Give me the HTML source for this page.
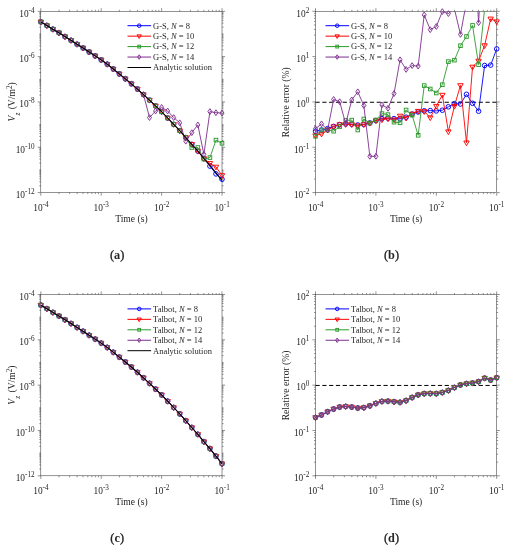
<!DOCTYPE html>
<html><head><meta charset="utf-8"><title>Figure</title>
<style>html,body{margin:0;padding:0;background:#fff}svg{display:block}text{font-family:"Liberation Serif","Times New Roman",serif;fill:#262626}</style></head><body>
<svg width="508" height="550" viewBox="0 0 508 550">
<rect width="508" height="550" fill="#fff"/>
<defs>
<clipPath id="cpa"><rect x="37.8" y="11.3" width="187.2" height="181.3"/></clipPath>
<clipPath id="cpb"><rect x="312.5" y="11.3" width="187.2" height="181.3"/></clipPath>
<clipPath id="cpc"><rect x="37.8" y="294.5" width="187.2" height="181.3"/></clipPath>
<clipPath id="cpd"><rect x="312.5" y="294.5" width="187.2" height="181.3"/></clipPath>
</defs>
<rect x="40.8" y="11.3" width="181.2" height="181.3" fill="none" stroke="#262626" stroke-width="0.5"/>
<path d="M40.80 195.70000000000002v-3.1M40.80 8.200000000000001v3.1M58.98 194.10000000000002v-1.5M58.98 9.8v1.5M69.62 194.10000000000002v-1.5M69.62 9.8v1.5M77.16 194.10000000000002v-1.5M77.16 9.8v1.5M83.02 194.10000000000002v-1.5M83.02 9.8v1.5M87.80 194.10000000000002v-1.5M87.80 9.8v1.5M91.84 194.10000000000002v-1.5M91.84 9.8v1.5M95.35 194.10000000000002v-1.5M95.35 9.8v1.5M98.44 194.10000000000002v-1.5M98.44 9.8v1.5M101.20 195.70000000000002v-3.1M101.20 8.200000000000001v3.1M119.38 194.10000000000002v-1.5M119.38 9.8v1.5M130.02 194.10000000000002v-1.5M130.02 9.8v1.5M137.56 194.10000000000002v-1.5M137.56 9.8v1.5M143.42 194.10000000000002v-1.5M143.42 9.8v1.5M148.20 194.10000000000002v-1.5M148.20 9.8v1.5M152.24 194.10000000000002v-1.5M152.24 9.8v1.5M155.75 194.10000000000002v-1.5M155.75 9.8v1.5M158.84 194.10000000000002v-1.5M158.84 9.8v1.5M161.60 195.70000000000002v-3.1M161.60 8.200000000000001v3.1M179.78 194.10000000000002v-1.5M179.78 9.8v1.5M190.42 194.10000000000002v-1.5M190.42 9.8v1.5M197.96 194.10000000000002v-1.5M197.96 9.8v1.5M203.82 194.10000000000002v-1.5M203.82 9.8v1.5M208.60 194.10000000000002v-1.5M208.60 9.8v1.5M212.64 194.10000000000002v-1.5M212.64 9.8v1.5M216.15 194.10000000000002v-1.5M216.15 9.8v1.5M219.24 194.10000000000002v-1.5M219.24 9.8v1.5M222.00 195.70000000000002v-3.1M222.00 8.200000000000001v3.1M37.699999999999996 11.30h3.1M225.1 11.30h-3.1M39.3 27.14h1.5M223.5 27.14h-1.5M39.3 23.15h1.5M223.5 23.15h-1.5M39.3 20.32h1.5M223.5 20.32h-1.5M39.3 18.12h1.5M223.5 18.12h-1.5M39.3 16.33h1.5M223.5 16.33h-1.5M39.3 14.81h1.5M223.5 14.81h-1.5M39.3 13.50h1.5M223.5 13.50h-1.5M39.3 12.34h1.5M223.5 12.34h-1.5M39.3 33.96h1.5M223.5 33.96h-1.5M39.3 49.80h1.5M223.5 49.80h-1.5M39.3 45.81h1.5M223.5 45.81h-1.5M39.3 42.98h1.5M223.5 42.98h-1.5M39.3 40.78h1.5M223.5 40.78h-1.5M39.3 38.99h1.5M223.5 38.99h-1.5M39.3 37.47h1.5M223.5 37.47h-1.5M39.3 36.16h1.5M223.5 36.16h-1.5M39.3 35.00h1.5M223.5 35.00h-1.5M37.699999999999996 56.62h3.1M225.1 56.62h-3.1M39.3 72.47h1.5M223.5 72.47h-1.5M39.3 68.47h1.5M223.5 68.47h-1.5M39.3 65.64h1.5M223.5 65.64h-1.5M39.3 63.45h1.5M223.5 63.45h-1.5M39.3 61.65h1.5M223.5 61.65h-1.5M39.3 60.14h1.5M223.5 60.14h-1.5M39.3 58.82h1.5M223.5 58.82h-1.5M39.3 57.66h1.5M223.5 57.66h-1.5M39.3 79.29h1.5M223.5 79.29h-1.5M39.3 95.13h1.5M223.5 95.13h-1.5M39.3 91.14h1.5M223.5 91.14h-1.5M39.3 88.31h1.5M223.5 88.31h-1.5M39.3 86.11h1.5M223.5 86.11h-1.5M39.3 84.32h1.5M223.5 84.32h-1.5M39.3 82.80h1.5M223.5 82.80h-1.5M39.3 81.48h1.5M223.5 81.48h-1.5M39.3 80.32h1.5M223.5 80.32h-1.5M37.699999999999996 101.95h3.1M225.1 101.95h-3.1M39.3 117.79h1.5M223.5 117.79h-1.5M39.3 113.80h1.5M223.5 113.80h-1.5M39.3 110.97h1.5M223.5 110.97h-1.5M39.3 108.77h1.5M223.5 108.77h-1.5M39.3 106.98h1.5M223.5 106.98h-1.5M39.3 105.46h1.5M223.5 105.46h-1.5M39.3 104.15h1.5M223.5 104.15h-1.5M39.3 102.99h1.5M223.5 102.99h-1.5M39.3 124.61h1.5M223.5 124.61h-1.5M39.3 140.45h1.5M223.5 140.45h-1.5M39.3 136.46h1.5M223.5 136.46h-1.5M39.3 133.63h1.5M223.5 133.63h-1.5M39.3 131.43h1.5M223.5 131.43h-1.5M39.3 129.64h1.5M223.5 129.64h-1.5M39.3 128.12h1.5M223.5 128.12h-1.5M39.3 126.81h1.5M223.5 126.81h-1.5M39.3 125.65h1.5M223.5 125.65h-1.5M37.699999999999996 147.28h3.1M225.1 147.28h-3.1M39.3 163.12h1.5M223.5 163.12h-1.5M39.3 159.12h1.5M223.5 159.12h-1.5M39.3 156.29h1.5M223.5 156.29h-1.5M39.3 154.10h1.5M223.5 154.10h-1.5M39.3 152.30h1.5M223.5 152.30h-1.5M39.3 150.79h1.5M223.5 150.79h-1.5M39.3 149.47h1.5M223.5 149.47h-1.5M39.3 148.31h1.5M223.5 148.31h-1.5M39.3 169.94h1.5M223.5 169.94h-1.5M39.3 185.78h1.5M223.5 185.78h-1.5M39.3 181.79h1.5M223.5 181.79h-1.5M39.3 178.96h1.5M223.5 178.96h-1.5M39.3 176.76h1.5M223.5 176.76h-1.5M39.3 174.97h1.5M223.5 174.97h-1.5M39.3 173.45h1.5M223.5 173.45h-1.5M39.3 172.13h1.5M223.5 172.13h-1.5M39.3 170.97h1.5M223.5 170.97h-1.5M37.699999999999996 192.60h3.1M225.1 192.60h-3.1" stroke="#262626" stroke-width="0.5" fill="none"/>
<text x="33.20" y="210.60" font-size="9.4">10<tspan dy="-4.0" font-size="7.2">-4</tspan></text>
<text x="93.60" y="210.60" font-size="9.4">10<tspan dy="-4.0" font-size="7.2">-3</tspan></text>
<text x="154.00" y="210.60" font-size="9.4">10<tspan dy="-4.0" font-size="7.2">-2</tspan></text>
<text x="214.40" y="210.60" font-size="9.4">10<tspan dy="-4.0" font-size="7.2">-1</tspan></text>
<text x="34.60" y="16.60" font-size="9.4" text-anchor="end">10<tspan dy="-4.0" font-size="7.2">-4</tspan></text>
<text x="34.60" y="61.92" font-size="9.4" text-anchor="end">10<tspan dy="-4.0" font-size="7.2">-6</tspan></text>
<text x="34.60" y="107.25" font-size="9.4" text-anchor="end">10<tspan dy="-4.0" font-size="7.2">-8</tspan></text>
<text x="34.60" y="152.58" font-size="9.4" text-anchor="end">10<tspan dy="-4.0" font-size="7.2">-10</tspan></text>
<text x="34.60" y="197.90" font-size="9.4" text-anchor="end">10<tspan dy="-4.0" font-size="7.2">-12</tspan></text>
<text x="131.40" y="222.10" font-size="9.6" text-anchor="middle">Time (s)</text>
<text transform="translate(15.20,101.95) rotate(-90)" font-size="9.6" text-anchor="middle"><tspan font-style="italic">V</tspan><tspan dy="4.8" dx="0.2" font-size="7.6" font-style="italic">z</tspan><tspan dy="-4.8" dx="0.8"> (V/m</tspan><tspan dy="-3.6" font-size="7.2">2</tspan><tspan dy="3.6">)</tspan></text>
<g>
<polyline points="40.80,21.90 46.84,25.50 52.88,29.20 58.92,32.80 64.96,36.60 71.00,40.30 77.04,44.20 83.08,48.00 89.12,52.00 95.16,55.90 101.20,59.90 107.24,64.20 113.28,69.00 119.32,73.90 125.36,78.80 131.40,83.80 137.44,89.05 143.48,94.60 149.52,100.10 155.56,105.90 161.60,111.70 167.64,118.00 173.68,124.30 179.72,130.70 185.76,137.50 191.80,144.30 197.84,151.10 203.88,158.50 209.92,166.10 215.96,173.90 222.00,179.20" fill="none" stroke="#0000ff" stroke-width="0.9" stroke-linejoin="round" clip-path="url(#cpa)"/>
<circle cx="40.80" cy="21.90" r="2.30" fill="none" stroke="#0000ff" stroke-width="0.95"/>
<circle cx="46.84" cy="25.50" r="2.30" fill="none" stroke="#0000ff" stroke-width="0.95"/>
<circle cx="52.88" cy="29.20" r="2.30" fill="none" stroke="#0000ff" stroke-width="0.95"/>
<circle cx="58.92" cy="32.80" r="2.30" fill="none" stroke="#0000ff" stroke-width="0.95"/>
<circle cx="64.96" cy="36.60" r="2.30" fill="none" stroke="#0000ff" stroke-width="0.95"/>
<circle cx="71.00" cy="40.30" r="2.30" fill="none" stroke="#0000ff" stroke-width="0.95"/>
<circle cx="77.04" cy="44.20" r="2.30" fill="none" stroke="#0000ff" stroke-width="0.95"/>
<circle cx="83.08" cy="48.00" r="2.30" fill="none" stroke="#0000ff" stroke-width="0.95"/>
<circle cx="89.12" cy="52.00" r="2.30" fill="none" stroke="#0000ff" stroke-width="0.95"/>
<circle cx="95.16" cy="55.90" r="2.30" fill="none" stroke="#0000ff" stroke-width="0.95"/>
<circle cx="101.20" cy="59.90" r="2.30" fill="none" stroke="#0000ff" stroke-width="0.95"/>
<circle cx="107.24" cy="64.20" r="2.30" fill="none" stroke="#0000ff" stroke-width="0.95"/>
<circle cx="113.28" cy="69.00" r="2.30" fill="none" stroke="#0000ff" stroke-width="0.95"/>
<circle cx="119.32" cy="73.90" r="2.30" fill="none" stroke="#0000ff" stroke-width="0.95"/>
<circle cx="125.36" cy="78.80" r="2.30" fill="none" stroke="#0000ff" stroke-width="0.95"/>
<circle cx="131.40" cy="83.80" r="2.30" fill="none" stroke="#0000ff" stroke-width="0.95"/>
<circle cx="137.44" cy="89.05" r="2.30" fill="none" stroke="#0000ff" stroke-width="0.95"/>
<circle cx="143.48" cy="94.60" r="2.30" fill="none" stroke="#0000ff" stroke-width="0.95"/>
<circle cx="149.52" cy="100.10" r="2.30" fill="none" stroke="#0000ff" stroke-width="0.95"/>
<circle cx="155.56" cy="105.90" r="2.30" fill="none" stroke="#0000ff" stroke-width="0.95"/>
<circle cx="161.60" cy="111.70" r="2.30" fill="none" stroke="#0000ff" stroke-width="0.95"/>
<circle cx="167.64" cy="118.00" r="2.30" fill="none" stroke="#0000ff" stroke-width="0.95"/>
<circle cx="173.68" cy="124.30" r="2.30" fill="none" stroke="#0000ff" stroke-width="0.95"/>
<circle cx="179.72" cy="130.70" r="2.30" fill="none" stroke="#0000ff" stroke-width="0.95"/>
<circle cx="185.76" cy="137.50" r="2.30" fill="none" stroke="#0000ff" stroke-width="0.95"/>
<circle cx="191.80" cy="144.30" r="2.30" fill="none" stroke="#0000ff" stroke-width="0.95"/>
<circle cx="197.84" cy="151.10" r="2.30" fill="none" stroke="#0000ff" stroke-width="0.95"/>
<circle cx="203.88" cy="158.50" r="2.30" fill="none" stroke="#0000ff" stroke-width="0.95"/>
<circle cx="209.92" cy="166.10" r="2.30" fill="none" stroke="#0000ff" stroke-width="0.95"/>
<circle cx="215.96" cy="173.90" r="2.30" fill="none" stroke="#0000ff" stroke-width="0.95"/>
<circle cx="222.00" cy="179.20" r="2.30" fill="none" stroke="#0000ff" stroke-width="0.95"/>
<polyline points="40.80,21.90 46.84,25.50 52.88,29.20 58.92,32.80 64.96,36.60 71.00,40.30 77.04,44.20 83.08,48.00 89.12,52.00 95.16,55.90 101.20,59.90 107.24,64.20 113.28,69.00 119.32,73.90 125.36,78.80 131.40,83.80 137.44,89.05 143.48,94.60 149.52,100.10 155.56,105.90 161.60,111.70 167.64,118.00 173.68,124.30 179.72,130.70 185.76,137.50 191.80,144.30 197.84,151.10 203.88,158.50 209.92,163.30 215.96,166.90 222.00,175.40" fill="none" stroke="#ff0000" stroke-width="0.9" stroke-linejoin="round" clip-path="url(#cpa)"/>
<path d="M38.10 20.20H43.50L40.80 24.90Z" fill="none" stroke="#ff0000" stroke-width="0.95"/>
<path d="M44.14 23.80H49.54L46.84 28.50Z" fill="none" stroke="#ff0000" stroke-width="0.95"/>
<path d="M50.18 27.50H55.58L52.88 32.20Z" fill="none" stroke="#ff0000" stroke-width="0.95"/>
<path d="M56.22 31.10H61.62L58.92 35.80Z" fill="none" stroke="#ff0000" stroke-width="0.95"/>
<path d="M62.26 34.90H67.66L64.96 39.60Z" fill="none" stroke="#ff0000" stroke-width="0.95"/>
<path d="M68.30 38.60H73.70L71.00 43.30Z" fill="none" stroke="#ff0000" stroke-width="0.95"/>
<path d="M74.34 42.50H79.74L77.04 47.20Z" fill="none" stroke="#ff0000" stroke-width="0.95"/>
<path d="M80.38 46.30H85.78L83.08 51.00Z" fill="none" stroke="#ff0000" stroke-width="0.95"/>
<path d="M86.42 50.30H91.82L89.12 55.00Z" fill="none" stroke="#ff0000" stroke-width="0.95"/>
<path d="M92.46 54.20H97.86L95.16 58.90Z" fill="none" stroke="#ff0000" stroke-width="0.95"/>
<path d="M98.50 58.20H103.90L101.20 62.90Z" fill="none" stroke="#ff0000" stroke-width="0.95"/>
<path d="M104.54 62.50H109.94L107.24 67.20Z" fill="none" stroke="#ff0000" stroke-width="0.95"/>
<path d="M110.58 67.30H115.98L113.28 72.00Z" fill="none" stroke="#ff0000" stroke-width="0.95"/>
<path d="M116.62 72.20H122.02L119.32 76.90Z" fill="none" stroke="#ff0000" stroke-width="0.95"/>
<path d="M122.66 77.10H128.06L125.36 81.80Z" fill="none" stroke="#ff0000" stroke-width="0.95"/>
<path d="M128.70 82.10H134.10L131.40 86.80Z" fill="none" stroke="#ff0000" stroke-width="0.95"/>
<path d="M134.74 87.35H140.14L137.44 92.05Z" fill="none" stroke="#ff0000" stroke-width="0.95"/>
<path d="M140.78 92.90H146.18L143.48 97.60Z" fill="none" stroke="#ff0000" stroke-width="0.95"/>
<path d="M146.82 98.40H152.22L149.52 103.10Z" fill="none" stroke="#ff0000" stroke-width="0.95"/>
<path d="M152.86 104.20H158.26L155.56 108.90Z" fill="none" stroke="#ff0000" stroke-width="0.95"/>
<path d="M158.90 110.00H164.30L161.60 114.70Z" fill="none" stroke="#ff0000" stroke-width="0.95"/>
<path d="M164.94 116.30H170.34L167.64 121.00Z" fill="none" stroke="#ff0000" stroke-width="0.95"/>
<path d="M170.98 122.60H176.38L173.68 127.30Z" fill="none" stroke="#ff0000" stroke-width="0.95"/>
<path d="M177.02 129.00H182.42L179.72 133.70Z" fill="none" stroke="#ff0000" stroke-width="0.95"/>
<path d="M183.06 135.80H188.46L185.76 140.50Z" fill="none" stroke="#ff0000" stroke-width="0.95"/>
<path d="M189.10 142.60H194.50L191.80 147.30Z" fill="none" stroke="#ff0000" stroke-width="0.95"/>
<path d="M195.14 149.40H200.54L197.84 154.10Z" fill="none" stroke="#ff0000" stroke-width="0.95"/>
<path d="M201.18 156.80H206.58L203.88 161.50Z" fill="none" stroke="#ff0000" stroke-width="0.95"/>
<path d="M207.22 161.60H212.62L209.92 166.30Z" fill="none" stroke="#ff0000" stroke-width="0.95"/>
<path d="M213.26 165.20H218.66L215.96 169.90Z" fill="none" stroke="#ff0000" stroke-width="0.95"/>
<path d="M219.30 173.70H224.70L222.00 178.40Z" fill="none" stroke="#ff0000" stroke-width="0.95"/>
<polyline points="40.80,21.90 46.84,25.50 52.88,29.20 58.92,32.80 64.96,36.60 71.00,40.30 77.04,44.20 83.08,48.00 89.12,52.00 95.16,55.90 101.20,59.90 107.24,64.20 113.28,69.00 119.32,73.90 125.36,78.80 131.40,83.80 137.44,89.05 143.48,94.60 149.52,100.10 155.56,105.90 161.60,111.70 167.64,118.00 173.68,124.30 179.72,130.70 185.76,137.50 191.80,147.50 197.84,147.50 203.88,159.10 209.92,157.60 215.96,140.10 222.00,143.30" fill="none" stroke="#2f9a2f" stroke-width="0.9" stroke-linejoin="round" clip-path="url(#cpa)"/>
<rect x="39.00" y="20.10" width="3.6" height="3.6" fill="none" stroke="#2f9a2f" stroke-width="0.95"/>
<rect x="45.04" y="23.70" width="3.6" height="3.6" fill="none" stroke="#2f9a2f" stroke-width="0.95"/>
<rect x="51.08" y="27.40" width="3.6" height="3.6" fill="none" stroke="#2f9a2f" stroke-width="0.95"/>
<rect x="57.12" y="31.00" width="3.6" height="3.6" fill="none" stroke="#2f9a2f" stroke-width="0.95"/>
<rect x="63.16" y="34.80" width="3.6" height="3.6" fill="none" stroke="#2f9a2f" stroke-width="0.95"/>
<rect x="69.20" y="38.50" width="3.6" height="3.6" fill="none" stroke="#2f9a2f" stroke-width="0.95"/>
<rect x="75.24" y="42.40" width="3.6" height="3.6" fill="none" stroke="#2f9a2f" stroke-width="0.95"/>
<rect x="81.28" y="46.20" width="3.6" height="3.6" fill="none" stroke="#2f9a2f" stroke-width="0.95"/>
<rect x="87.32" y="50.20" width="3.6" height="3.6" fill="none" stroke="#2f9a2f" stroke-width="0.95"/>
<rect x="93.36" y="54.10" width="3.6" height="3.6" fill="none" stroke="#2f9a2f" stroke-width="0.95"/>
<rect x="99.40" y="58.10" width="3.6" height="3.6" fill="none" stroke="#2f9a2f" stroke-width="0.95"/>
<rect x="105.44" y="62.40" width="3.6" height="3.6" fill="none" stroke="#2f9a2f" stroke-width="0.95"/>
<rect x="111.48" y="67.20" width="3.6" height="3.6" fill="none" stroke="#2f9a2f" stroke-width="0.95"/>
<rect x="117.52" y="72.10" width="3.6" height="3.6" fill="none" stroke="#2f9a2f" stroke-width="0.95"/>
<rect x="123.56" y="77.00" width="3.6" height="3.6" fill="none" stroke="#2f9a2f" stroke-width="0.95"/>
<rect x="129.60" y="82.00" width="3.6" height="3.6" fill="none" stroke="#2f9a2f" stroke-width="0.95"/>
<rect x="135.64" y="87.25" width="3.6" height="3.6" fill="none" stroke="#2f9a2f" stroke-width="0.95"/>
<rect x="141.68" y="92.80" width="3.6" height="3.6" fill="none" stroke="#2f9a2f" stroke-width="0.95"/>
<rect x="147.72" y="98.30" width="3.6" height="3.6" fill="none" stroke="#2f9a2f" stroke-width="0.95"/>
<rect x="153.76" y="104.10" width="3.6" height="3.6" fill="none" stroke="#2f9a2f" stroke-width="0.95"/>
<rect x="159.80" y="109.90" width="3.6" height="3.6" fill="none" stroke="#2f9a2f" stroke-width="0.95"/>
<rect x="165.84" y="116.20" width="3.6" height="3.6" fill="none" stroke="#2f9a2f" stroke-width="0.95"/>
<rect x="171.88" y="122.50" width="3.6" height="3.6" fill="none" stroke="#2f9a2f" stroke-width="0.95"/>
<rect x="177.92" y="128.90" width="3.6" height="3.6" fill="none" stroke="#2f9a2f" stroke-width="0.95"/>
<rect x="183.96" y="135.70" width="3.6" height="3.6" fill="none" stroke="#2f9a2f" stroke-width="0.95"/>
<rect x="190.00" y="145.70" width="3.6" height="3.6" fill="none" stroke="#2f9a2f" stroke-width="0.95"/>
<rect x="196.04" y="145.70" width="3.6" height="3.6" fill="none" stroke="#2f9a2f" stroke-width="0.95"/>
<rect x="202.08" y="157.30" width="3.6" height="3.6" fill="none" stroke="#2f9a2f" stroke-width="0.95"/>
<rect x="208.12" y="155.80" width="3.6" height="3.6" fill="none" stroke="#2f9a2f" stroke-width="0.95"/>
<rect x="214.16" y="138.30" width="3.6" height="3.6" fill="none" stroke="#2f9a2f" stroke-width="0.95"/>
<rect x="220.20" y="141.50" width="3.6" height="3.6" fill="none" stroke="#2f9a2f" stroke-width="0.95"/>
<polyline points="40.80,21.90 46.84,25.50 52.88,29.20 58.92,32.80 64.96,36.60 71.00,40.30 77.04,44.20 83.08,48.00 89.12,52.00 95.16,55.90 101.20,59.90 107.24,64.20 113.28,69.00 119.32,73.90 125.36,78.80 131.40,83.80 137.44,89.05 143.48,94.60 149.52,117.55 155.56,111.00 161.60,107.40 167.64,111.00 173.68,117.55 179.72,122.80 185.76,141.20 191.80,132.70 197.84,124.90 203.88,154.30 209.92,111.60 215.96,112.70 222.00,113.10" fill="none" stroke="#7e2f8e" stroke-width="0.9" stroke-linejoin="round" clip-path="url(#cpa)"/>
<path d="M40.80 19.00L42.80 21.90L40.80 24.80L38.80 21.90Z" fill="none" stroke="#7e2f8e" stroke-width="0.95"/>
<path d="M46.84 22.60L48.84 25.50L46.84 28.40L44.84 25.50Z" fill="none" stroke="#7e2f8e" stroke-width="0.95"/>
<path d="M52.88 26.30L54.88 29.20L52.88 32.10L50.88 29.20Z" fill="none" stroke="#7e2f8e" stroke-width="0.95"/>
<path d="M58.92 29.90L60.92 32.80L58.92 35.70L56.92 32.80Z" fill="none" stroke="#7e2f8e" stroke-width="0.95"/>
<path d="M64.96 33.70L66.96 36.60L64.96 39.50L62.96 36.60Z" fill="none" stroke="#7e2f8e" stroke-width="0.95"/>
<path d="M71.00 37.40L73.00 40.30L71.00 43.20L69.00 40.30Z" fill="none" stroke="#7e2f8e" stroke-width="0.95"/>
<path d="M77.04 41.30L79.04 44.20L77.04 47.10L75.04 44.20Z" fill="none" stroke="#7e2f8e" stroke-width="0.95"/>
<path d="M83.08 45.10L85.08 48.00L83.08 50.90L81.08 48.00Z" fill="none" stroke="#7e2f8e" stroke-width="0.95"/>
<path d="M89.12 49.10L91.12 52.00L89.12 54.90L87.12 52.00Z" fill="none" stroke="#7e2f8e" stroke-width="0.95"/>
<path d="M95.16 53.00L97.16 55.90L95.16 58.80L93.16 55.90Z" fill="none" stroke="#7e2f8e" stroke-width="0.95"/>
<path d="M101.20 57.00L103.20 59.90L101.20 62.80L99.20 59.90Z" fill="none" stroke="#7e2f8e" stroke-width="0.95"/>
<path d="M107.24 61.30L109.24 64.20L107.24 67.10L105.24 64.20Z" fill="none" stroke="#7e2f8e" stroke-width="0.95"/>
<path d="M113.28 66.10L115.28 69.00L113.28 71.90L111.28 69.00Z" fill="none" stroke="#7e2f8e" stroke-width="0.95"/>
<path d="M119.32 71.00L121.32 73.90L119.32 76.80L117.32 73.90Z" fill="none" stroke="#7e2f8e" stroke-width="0.95"/>
<path d="M125.36 75.90L127.36 78.80L125.36 81.70L123.36 78.80Z" fill="none" stroke="#7e2f8e" stroke-width="0.95"/>
<path d="M131.40 80.90L133.40 83.80L131.40 86.70L129.40 83.80Z" fill="none" stroke="#7e2f8e" stroke-width="0.95"/>
<path d="M137.44 86.15L139.44 89.05L137.44 91.95L135.44 89.05Z" fill="none" stroke="#7e2f8e" stroke-width="0.95"/>
<path d="M143.48 91.70L145.48 94.60L143.48 97.50L141.48 94.60Z" fill="none" stroke="#7e2f8e" stroke-width="0.95"/>
<path d="M149.52 114.65L151.52 117.55L149.52 120.45L147.52 117.55Z" fill="none" stroke="#7e2f8e" stroke-width="0.95"/>
<path d="M155.56 108.10L157.56 111.00L155.56 113.90L153.56 111.00Z" fill="none" stroke="#7e2f8e" stroke-width="0.95"/>
<path d="M161.60 104.50L163.60 107.40L161.60 110.30L159.60 107.40Z" fill="none" stroke="#7e2f8e" stroke-width="0.95"/>
<path d="M167.64 108.10L169.64 111.00L167.64 113.90L165.64 111.00Z" fill="none" stroke="#7e2f8e" stroke-width="0.95"/>
<path d="M173.68 114.65L175.68 117.55L173.68 120.45L171.68 117.55Z" fill="none" stroke="#7e2f8e" stroke-width="0.95"/>
<path d="M179.72 119.90L181.72 122.80L179.72 125.70L177.72 122.80Z" fill="none" stroke="#7e2f8e" stroke-width="0.95"/>
<path d="M185.76 138.30L187.76 141.20L185.76 144.10L183.76 141.20Z" fill="none" stroke="#7e2f8e" stroke-width="0.95"/>
<path d="M191.80 129.80L193.80 132.70L191.80 135.60L189.80 132.70Z" fill="none" stroke="#7e2f8e" stroke-width="0.95"/>
<path d="M197.84 122.00L199.84 124.90L197.84 127.80L195.84 124.90Z" fill="none" stroke="#7e2f8e" stroke-width="0.95"/>
<path d="M203.88 151.40L205.88 154.30L203.88 157.20L201.88 154.30Z" fill="none" stroke="#7e2f8e" stroke-width="0.95"/>
<path d="M209.92 108.70L211.92 111.60L209.92 114.50L207.92 111.60Z" fill="none" stroke="#7e2f8e" stroke-width="0.95"/>
<path d="M215.96 109.80L217.96 112.70L215.96 115.60L213.96 112.70Z" fill="none" stroke="#7e2f8e" stroke-width="0.95"/>
<path d="M222.00 110.20L224.00 113.10L222.00 116.00L220.00 113.10Z" fill="none" stroke="#7e2f8e" stroke-width="0.95"/>
<polyline points="40.80,21.90 46.84,25.50 52.88,29.20 58.92,32.80 64.96,36.60 71.00,40.30 77.04,44.20 83.08,48.00 89.12,52.00 95.16,55.90 101.20,59.90 107.24,64.20 113.28,69.00 119.32,73.90 125.36,78.80 131.40,83.80 137.44,89.05 143.48,94.60 149.52,100.10 155.56,105.90 161.60,111.70 167.64,118.00 173.68,124.30 179.72,130.70 185.76,137.50 191.80,144.30 197.84,151.10 203.88,158.50 209.92,165.40 215.96,172.90 222.00,180.60" fill="none" stroke="#000" stroke-width="1.05"/>
</g>
<path d="M127.5 25.70h23.6" stroke="#0000ff" stroke-width="1.0"/>
<circle cx="139.20" cy="25.70" r="1.79" fill="none" stroke="#0000ff" stroke-width="0.95"/>
<text x="153.10" y="28.50" font-size="8.5">G-S, <tspan font-style="italic">N</tspan> = 8</text>
<path d="M127.5 36.15h23.6" stroke="#ff0000" stroke-width="1.0"/>
<path d="M137.09 34.82H141.31L139.20 38.49Z" fill="none" stroke="#ff0000" stroke-width="0.95"/>
<text x="153.10" y="38.95" font-size="8.5">G-S, <tspan font-style="italic">N</tspan> = 10</text>
<path d="M127.5 46.60h23.6" stroke="#2f9a2f" stroke-width="1.0"/>
<rect x="137.80" y="45.20" width="2.8080000000000003" height="2.8080000000000003" fill="none" stroke="#2f9a2f" stroke-width="0.95"/>
<text x="153.10" y="49.40" font-size="8.5">G-S, <tspan font-style="italic">N</tspan> = 12</text>
<path d="M127.5 57.05h23.6" stroke="#7e2f8e" stroke-width="1.0"/>
<path d="M139.20 54.79L140.76 57.05L139.20 59.31L137.64 57.05Z" fill="none" stroke="#7e2f8e" stroke-width="0.95"/>
<text x="153.10" y="59.85" font-size="8.5">G-S, <tspan font-style="italic">N</tspan> = 14</text>
<path d="M127.5 67.50h23.6" stroke="#000" stroke-width="1.0"/>
<text x="153.10" y="70.30" font-size="8.5">Analytic solution</text>
<rect x="315.5" y="11.3" width="181.2" height="181.3" fill="none" stroke="#262626" stroke-width="0.5"/>
<path d="M315.50 195.70000000000002v-3.1M315.50 8.200000000000001v3.1M333.68 194.10000000000002v-1.5M333.68 9.8v1.5M344.32 194.10000000000002v-1.5M344.32 9.8v1.5M351.86 194.10000000000002v-1.5M351.86 9.8v1.5M357.72 194.10000000000002v-1.5M357.72 9.8v1.5M362.50 194.10000000000002v-1.5M362.50 9.8v1.5M366.54 194.10000000000002v-1.5M366.54 9.8v1.5M370.05 194.10000000000002v-1.5M370.05 9.8v1.5M373.14 194.10000000000002v-1.5M373.14 9.8v1.5M375.90 195.70000000000002v-3.1M375.90 8.200000000000001v3.1M394.08 194.10000000000002v-1.5M394.08 9.8v1.5M404.72 194.10000000000002v-1.5M404.72 9.8v1.5M412.26 194.10000000000002v-1.5M412.26 9.8v1.5M418.12 194.10000000000002v-1.5M418.12 9.8v1.5M422.90 194.10000000000002v-1.5M422.90 9.8v1.5M426.94 194.10000000000002v-1.5M426.94 9.8v1.5M430.45 194.10000000000002v-1.5M430.45 9.8v1.5M433.54 194.10000000000002v-1.5M433.54 9.8v1.5M436.30 195.70000000000002v-3.1M436.30 8.200000000000001v3.1M454.48 194.10000000000002v-1.5M454.48 9.8v1.5M465.12 194.10000000000002v-1.5M465.12 9.8v1.5M472.66 194.10000000000002v-1.5M472.66 9.8v1.5M478.52 194.10000000000002v-1.5M478.52 9.8v1.5M483.30 194.10000000000002v-1.5M483.30 9.8v1.5M487.34 194.10000000000002v-1.5M487.34 9.8v1.5M490.85 194.10000000000002v-1.5M490.85 9.8v1.5M493.94 194.10000000000002v-1.5M493.94 9.8v1.5M496.70 195.70000000000002v-3.1M496.70 8.200000000000001v3.1M312.4 11.30h3.1M499.8 11.30h-3.1M314.0 42.98h1.5M498.2 42.98h-1.5M314.0 35.00h1.5M498.2 35.00h-1.5M314.0 29.34h1.5M498.2 29.34h-1.5M314.0 24.94h1.5M498.2 24.94h-1.5M314.0 21.36h1.5M498.2 21.36h-1.5M314.0 18.32h1.5M498.2 18.32h-1.5M314.0 15.69h1.5M498.2 15.69h-1.5M314.0 13.37h1.5M498.2 13.37h-1.5M312.4 56.62h3.1M499.8 56.62h-3.1M314.0 88.31h1.5M498.2 88.31h-1.5M314.0 80.32h1.5M498.2 80.32h-1.5M314.0 74.66h1.5M498.2 74.66h-1.5M314.0 70.27h1.5M498.2 70.27h-1.5M314.0 66.68h1.5M498.2 66.68h-1.5M314.0 63.65h1.5M498.2 63.65h-1.5M314.0 61.02h1.5M498.2 61.02h-1.5M314.0 58.70h1.5M498.2 58.70h-1.5M312.4 101.95h3.1M499.8 101.95h-3.1M314.0 133.63h1.5M498.2 133.63h-1.5M314.0 125.65h1.5M498.2 125.65h-1.5M314.0 119.99h1.5M498.2 119.99h-1.5M314.0 115.59h1.5M498.2 115.59h-1.5M314.0 112.01h1.5M498.2 112.01h-1.5M314.0 108.97h1.5M498.2 108.97h-1.5M314.0 106.34h1.5M498.2 106.34h-1.5M314.0 104.02h1.5M498.2 104.02h-1.5M312.4 147.28h3.1M499.8 147.28h-3.1M314.0 178.96h1.5M498.2 178.96h-1.5M314.0 170.97h1.5M498.2 170.97h-1.5M314.0 165.31h1.5M498.2 165.31h-1.5M314.0 160.92h1.5M498.2 160.92h-1.5M314.0 157.33h1.5M498.2 157.33h-1.5M314.0 154.30h1.5M498.2 154.30h-1.5M314.0 151.67h1.5M498.2 151.67h-1.5M314.0 149.35h1.5M498.2 149.35h-1.5M312.4 192.60h3.1M499.8 192.60h-3.1" stroke="#262626" stroke-width="0.5" fill="none"/>
<text x="307.90" y="210.60" font-size="9.4">10<tspan dy="-4.0" font-size="7.2">-4</tspan></text>
<text x="368.30" y="210.60" font-size="9.4">10<tspan dy="-4.0" font-size="7.2">-3</tspan></text>
<text x="428.70" y="210.60" font-size="9.4">10<tspan dy="-4.0" font-size="7.2">-2</tspan></text>
<text x="489.10" y="210.60" font-size="9.4">10<tspan dy="-4.0" font-size="7.2">-1</tspan></text>
<text x="309.30" y="16.60" font-size="9.4" text-anchor="end">10<tspan dy="-4.0" font-size="7.2">2</tspan></text>
<text x="309.30" y="61.92" font-size="9.4" text-anchor="end">10<tspan dy="-4.0" font-size="7.2">1</tspan></text>
<text x="309.30" y="107.25" font-size="9.4" text-anchor="end">10<tspan dy="-4.0" font-size="7.2">0</tspan></text>
<text x="309.30" y="152.58" font-size="9.4" text-anchor="end">10<tspan dy="-4.0" font-size="7.2">-1</tspan></text>
<text x="309.30" y="197.90" font-size="9.4" text-anchor="end">10<tspan dy="-4.0" font-size="7.2">-2</tspan></text>
<text x="406.10" y="222.10" font-size="9.6" text-anchor="middle">Time (s)</text>
<text transform="translate(288.80,102.25) rotate(-90)" font-size="9.6" text-anchor="middle">Relative error (%)</text>
<g>
<path d="M315.5 102.25h181.2" stroke="#000" stroke-width="1.0" stroke-dasharray="4.2 2.6"/>
<polyline points="315.50,131.20 321.54,130.00 327.58,128.60 333.62,126.40 339.66,124.60 345.70,123.90 351.74,124.20 357.78,125.00 363.82,124.40 369.86,122.90 375.90,120.60 381.94,118.60 387.98,118.20 394.02,118.60 400.06,118.90 406.10,117.20 412.14,114.10 418.18,112.00 424.22,110.80 430.26,110.60 436.30,110.90 442.34,110.20 448.38,106.80 454.42,103.70 460.46,104.00 466.50,94.30 472.54,103.30 478.58,111.20 484.62,65.50 490.66,65.10 496.70,48.90" fill="none" stroke="#0000ff" stroke-width="0.9" stroke-linejoin="round" clip-path="url(#cpb)"/>
<circle cx="315.50" cy="131.20" r="2.30" fill="none" stroke="#0000ff" stroke-width="0.95"/>
<circle cx="321.54" cy="130.00" r="2.30" fill="none" stroke="#0000ff" stroke-width="0.95"/>
<circle cx="327.58" cy="128.60" r="2.30" fill="none" stroke="#0000ff" stroke-width="0.95"/>
<circle cx="333.62" cy="126.40" r="2.30" fill="none" stroke="#0000ff" stroke-width="0.95"/>
<circle cx="339.66" cy="124.60" r="2.30" fill="none" stroke="#0000ff" stroke-width="0.95"/>
<circle cx="345.70" cy="123.90" r="2.30" fill="none" stroke="#0000ff" stroke-width="0.95"/>
<circle cx="351.74" cy="124.20" r="2.30" fill="none" stroke="#0000ff" stroke-width="0.95"/>
<circle cx="357.78" cy="125.00" r="2.30" fill="none" stroke="#0000ff" stroke-width="0.95"/>
<circle cx="363.82" cy="124.40" r="2.30" fill="none" stroke="#0000ff" stroke-width="0.95"/>
<circle cx="369.86" cy="122.90" r="2.30" fill="none" stroke="#0000ff" stroke-width="0.95"/>
<circle cx="375.90" cy="120.60" r="2.30" fill="none" stroke="#0000ff" stroke-width="0.95"/>
<circle cx="381.94" cy="118.60" r="2.30" fill="none" stroke="#0000ff" stroke-width="0.95"/>
<circle cx="387.98" cy="118.20" r="2.30" fill="none" stroke="#0000ff" stroke-width="0.95"/>
<circle cx="394.02" cy="118.60" r="2.30" fill="none" stroke="#0000ff" stroke-width="0.95"/>
<circle cx="400.06" cy="118.90" r="2.30" fill="none" stroke="#0000ff" stroke-width="0.95"/>
<circle cx="406.10" cy="117.20" r="2.30" fill="none" stroke="#0000ff" stroke-width="0.95"/>
<circle cx="412.14" cy="114.10" r="2.30" fill="none" stroke="#0000ff" stroke-width="0.95"/>
<circle cx="418.18" cy="112.00" r="2.30" fill="none" stroke="#0000ff" stroke-width="0.95"/>
<circle cx="424.22" cy="110.80" r="2.30" fill="none" stroke="#0000ff" stroke-width="0.95"/>
<circle cx="430.26" cy="110.60" r="2.30" fill="none" stroke="#0000ff" stroke-width="0.95"/>
<circle cx="436.30" cy="110.90" r="2.30" fill="none" stroke="#0000ff" stroke-width="0.95"/>
<circle cx="442.34" cy="110.20" r="2.30" fill="none" stroke="#0000ff" stroke-width="0.95"/>
<circle cx="448.38" cy="106.80" r="2.30" fill="none" stroke="#0000ff" stroke-width="0.95"/>
<circle cx="454.42" cy="103.70" r="2.30" fill="none" stroke="#0000ff" stroke-width="0.95"/>
<circle cx="460.46" cy="104.00" r="2.30" fill="none" stroke="#0000ff" stroke-width="0.95"/>
<circle cx="466.50" cy="94.30" r="2.30" fill="none" stroke="#0000ff" stroke-width="0.95"/>
<circle cx="472.54" cy="103.30" r="2.30" fill="none" stroke="#0000ff" stroke-width="0.95"/>
<circle cx="478.58" cy="111.20" r="2.30" fill="none" stroke="#0000ff" stroke-width="0.95"/>
<circle cx="484.62" cy="65.50" r="2.30" fill="none" stroke="#0000ff" stroke-width="0.95"/>
<circle cx="490.66" cy="65.10" r="2.30" fill="none" stroke="#0000ff" stroke-width="0.95"/>
<circle cx="496.70" cy="48.90" r="2.30" fill="none" stroke="#0000ff" stroke-width="0.95"/>
<polyline points="315.50,135.60 321.54,133.90 327.58,130.00 333.62,126.60 339.66,124.50 345.70,124.30 351.74,124.50 357.78,125.60 363.82,124.50 369.86,123.10 375.90,120.60 381.94,119.70 387.98,118.70 394.02,119.70 400.06,115.90 406.10,118.00 412.14,113.90 418.18,111.10 424.22,111.40 430.26,117.60 436.30,106.10 442.34,95.00 448.38,131.60 454.42,106.10 460.46,85.40 466.50,142.70 472.54,66.90 478.58,60.90 484.62,45.50 490.66,18.80 496.70,21.60" fill="none" stroke="#ff0000" stroke-width="0.9" stroke-linejoin="round" clip-path="url(#cpb)"/>
<path d="M312.80 133.90H318.20L315.50 138.60Z" fill="none" stroke="#ff0000" stroke-width="0.95"/>
<path d="M318.84 132.20H324.24L321.54 136.90Z" fill="none" stroke="#ff0000" stroke-width="0.95"/>
<path d="M324.88 128.30H330.28L327.58 133.00Z" fill="none" stroke="#ff0000" stroke-width="0.95"/>
<path d="M330.92 124.90H336.32L333.62 129.60Z" fill="none" stroke="#ff0000" stroke-width="0.95"/>
<path d="M336.96 122.80H342.36L339.66 127.50Z" fill="none" stroke="#ff0000" stroke-width="0.95"/>
<path d="M343.00 122.60H348.40L345.70 127.30Z" fill="none" stroke="#ff0000" stroke-width="0.95"/>
<path d="M349.04 122.80H354.44L351.74 127.50Z" fill="none" stroke="#ff0000" stroke-width="0.95"/>
<path d="M355.08 123.90H360.48L357.78 128.60Z" fill="none" stroke="#ff0000" stroke-width="0.95"/>
<path d="M361.12 122.80H366.52L363.82 127.50Z" fill="none" stroke="#ff0000" stroke-width="0.95"/>
<path d="M367.16 121.40H372.56L369.86 126.10Z" fill="none" stroke="#ff0000" stroke-width="0.95"/>
<path d="M373.20 118.90H378.60L375.90 123.60Z" fill="none" stroke="#ff0000" stroke-width="0.95"/>
<path d="M379.24 118.00H384.64L381.94 122.70Z" fill="none" stroke="#ff0000" stroke-width="0.95"/>
<path d="M385.28 117.00H390.68L387.98 121.70Z" fill="none" stroke="#ff0000" stroke-width="0.95"/>
<path d="M391.32 118.00H396.72L394.02 122.70Z" fill="none" stroke="#ff0000" stroke-width="0.95"/>
<path d="M397.36 114.20H402.76L400.06 118.90Z" fill="none" stroke="#ff0000" stroke-width="0.95"/>
<path d="M403.40 116.30H408.80L406.10 121.00Z" fill="none" stroke="#ff0000" stroke-width="0.95"/>
<path d="M409.44 112.20H414.84L412.14 116.90Z" fill="none" stroke="#ff0000" stroke-width="0.95"/>
<path d="M415.48 109.40H420.88L418.18 114.10Z" fill="none" stroke="#ff0000" stroke-width="0.95"/>
<path d="M421.52 109.70H426.92L424.22 114.40Z" fill="none" stroke="#ff0000" stroke-width="0.95"/>
<path d="M427.56 115.90H432.96L430.26 120.60Z" fill="none" stroke="#ff0000" stroke-width="0.95"/>
<path d="M433.60 104.40H439.00L436.30 109.10Z" fill="none" stroke="#ff0000" stroke-width="0.95"/>
<path d="M439.64 93.30H445.04L442.34 98.00Z" fill="none" stroke="#ff0000" stroke-width="0.95"/>
<path d="M445.68 129.90H451.08L448.38 134.60Z" fill="none" stroke="#ff0000" stroke-width="0.95"/>
<path d="M451.72 104.40H457.12L454.42 109.10Z" fill="none" stroke="#ff0000" stroke-width="0.95"/>
<path d="M457.76 83.70H463.16L460.46 88.40Z" fill="none" stroke="#ff0000" stroke-width="0.95"/>
<path d="M463.80 141.00H469.20L466.50 145.70Z" fill="none" stroke="#ff0000" stroke-width="0.95"/>
<path d="M469.84 65.20H475.24L472.54 69.90Z" fill="none" stroke="#ff0000" stroke-width="0.95"/>
<path d="M475.88 59.20H481.28L478.58 63.90Z" fill="none" stroke="#ff0000" stroke-width="0.95"/>
<path d="M481.92 43.80H487.32L484.62 48.50Z" fill="none" stroke="#ff0000" stroke-width="0.95"/>
<path d="M487.96 17.10H493.36L490.66 21.80Z" fill="none" stroke="#ff0000" stroke-width="0.95"/>
<path d="M494.00 19.90H499.40L496.70 24.60Z" fill="none" stroke="#ff0000" stroke-width="0.95"/>
<polyline points="315.50,136.30 321.54,130.00 327.58,130.00 333.62,131.20 339.66,126.60 345.70,120.40 351.74,120.10 357.78,130.00 363.82,119.00 369.86,123.10 375.90,120.00 381.94,113.60 387.98,114.60 394.02,122.20 400.06,122.80 406.10,110.00 412.14,115.20 418.18,135.30 424.22,85.60 430.26,89.00 436.30,93.00 442.34,84.70 448.38,61.60 454.42,60.20 460.46,45.70 466.50,36.50 472.54,25.40 478.58,64.70 484.62,9.00 490.66,-400.00 496.70,-400.00" fill="none" stroke="#2f9a2f" stroke-width="0.9" stroke-linejoin="round" clip-path="url(#cpb)"/>
<rect x="313.70" y="134.50" width="3.6" height="3.6" fill="none" stroke="#2f9a2f" stroke-width="0.95"/>
<rect x="319.74" y="128.20" width="3.6" height="3.6" fill="none" stroke="#2f9a2f" stroke-width="0.95"/>
<rect x="325.78" y="128.20" width="3.6" height="3.6" fill="none" stroke="#2f9a2f" stroke-width="0.95"/>
<rect x="331.82" y="129.40" width="3.6" height="3.6" fill="none" stroke="#2f9a2f" stroke-width="0.95"/>
<rect x="337.86" y="124.80" width="3.6" height="3.6" fill="none" stroke="#2f9a2f" stroke-width="0.95"/>
<rect x="343.90" y="118.60" width="3.6" height="3.6" fill="none" stroke="#2f9a2f" stroke-width="0.95"/>
<rect x="349.94" y="118.30" width="3.6" height="3.6" fill="none" stroke="#2f9a2f" stroke-width="0.95"/>
<rect x="355.98" y="128.20" width="3.6" height="3.6" fill="none" stroke="#2f9a2f" stroke-width="0.95"/>
<rect x="362.02" y="117.20" width="3.6" height="3.6" fill="none" stroke="#2f9a2f" stroke-width="0.95"/>
<rect x="368.06" y="121.30" width="3.6" height="3.6" fill="none" stroke="#2f9a2f" stroke-width="0.95"/>
<rect x="374.10" y="118.20" width="3.6" height="3.6" fill="none" stroke="#2f9a2f" stroke-width="0.95"/>
<rect x="380.14" y="111.80" width="3.6" height="3.6" fill="none" stroke="#2f9a2f" stroke-width="0.95"/>
<rect x="386.18" y="112.80" width="3.6" height="3.6" fill="none" stroke="#2f9a2f" stroke-width="0.95"/>
<rect x="392.22" y="120.40" width="3.6" height="3.6" fill="none" stroke="#2f9a2f" stroke-width="0.95"/>
<rect x="398.26" y="121.00" width="3.6" height="3.6" fill="none" stroke="#2f9a2f" stroke-width="0.95"/>
<rect x="404.30" y="108.20" width="3.6" height="3.6" fill="none" stroke="#2f9a2f" stroke-width="0.95"/>
<rect x="410.34" y="113.40" width="3.6" height="3.6" fill="none" stroke="#2f9a2f" stroke-width="0.95"/>
<rect x="416.38" y="133.50" width="3.6" height="3.6" fill="none" stroke="#2f9a2f" stroke-width="0.95"/>
<rect x="422.42" y="83.80" width="3.6" height="3.6" fill="none" stroke="#2f9a2f" stroke-width="0.95"/>
<rect x="428.46" y="87.20" width="3.6" height="3.6" fill="none" stroke="#2f9a2f" stroke-width="0.95"/>
<rect x="434.50" y="91.20" width="3.6" height="3.6" fill="none" stroke="#2f9a2f" stroke-width="0.95"/>
<rect x="440.54" y="82.90" width="3.6" height="3.6" fill="none" stroke="#2f9a2f" stroke-width="0.95"/>
<rect x="446.58" y="59.80" width="3.6" height="3.6" fill="none" stroke="#2f9a2f" stroke-width="0.95"/>
<rect x="452.62" y="58.40" width="3.6" height="3.6" fill="none" stroke="#2f9a2f" stroke-width="0.95"/>
<rect x="458.66" y="43.90" width="3.6" height="3.6" fill="none" stroke="#2f9a2f" stroke-width="0.95"/>
<rect x="464.70" y="34.70" width="3.6" height="3.6" fill="none" stroke="#2f9a2f" stroke-width="0.95"/>
<rect x="470.74" y="23.60" width="3.6" height="3.6" fill="none" stroke="#2f9a2f" stroke-width="0.95"/>
<rect x="476.78" y="62.90" width="3.6" height="3.6" fill="none" stroke="#2f9a2f" stroke-width="0.95"/>
<polyline points="315.50,128.70 321.54,123.80 327.58,130.05 333.62,99.40 339.66,101.70 345.70,123.80 351.74,99.90 357.78,91.80 363.82,105.50 369.86,156.30 375.90,156.30 381.94,104.90 387.98,108.30 394.02,93.60 400.06,59.80 406.10,69.40 412.14,65.60 418.18,66.10 424.22,14.90 430.26,29.70 436.30,26.50 442.34,11.60 448.38,13.60 454.42,9.00 460.46,34.40 466.50,1.50 472.54,-80.00 478.58,22.70 484.62,-80.00 490.66,-400.00 496.70,-400.00" fill="none" stroke="#7e2f8e" stroke-width="0.9" stroke-linejoin="round" clip-path="url(#cpb)"/>
<path d="M315.50 125.80L317.50 128.70L315.50 131.60L313.50 128.70Z" fill="none" stroke="#7e2f8e" stroke-width="0.95"/>
<path d="M321.54 120.90L323.54 123.80L321.54 126.70L319.54 123.80Z" fill="none" stroke="#7e2f8e" stroke-width="0.95"/>
<path d="M327.58 127.15L329.58 130.05L327.58 132.95L325.58 130.05Z" fill="none" stroke="#7e2f8e" stroke-width="0.95"/>
<path d="M333.62 96.50L335.62 99.40L333.62 102.30L331.62 99.40Z" fill="none" stroke="#7e2f8e" stroke-width="0.95"/>
<path d="M339.66 98.80L341.66 101.70L339.66 104.60L337.66 101.70Z" fill="none" stroke="#7e2f8e" stroke-width="0.95"/>
<path d="M345.70 120.90L347.70 123.80L345.70 126.70L343.70 123.80Z" fill="none" stroke="#7e2f8e" stroke-width="0.95"/>
<path d="M351.74 97.00L353.74 99.90L351.74 102.80L349.74 99.90Z" fill="none" stroke="#7e2f8e" stroke-width="0.95"/>
<path d="M357.78 88.90L359.78 91.80L357.78 94.70L355.78 91.80Z" fill="none" stroke="#7e2f8e" stroke-width="0.95"/>
<path d="M363.82 102.60L365.82 105.50L363.82 108.40L361.82 105.50Z" fill="none" stroke="#7e2f8e" stroke-width="0.95"/>
<path d="M369.86 153.40L371.86 156.30L369.86 159.20L367.86 156.30Z" fill="none" stroke="#7e2f8e" stroke-width="0.95"/>
<path d="M375.90 153.40L377.90 156.30L375.90 159.20L373.90 156.30Z" fill="none" stroke="#7e2f8e" stroke-width="0.95"/>
<path d="M381.94 102.00L383.94 104.90L381.94 107.80L379.94 104.90Z" fill="none" stroke="#7e2f8e" stroke-width="0.95"/>
<path d="M387.98 105.40L389.98 108.30L387.98 111.20L385.98 108.30Z" fill="none" stroke="#7e2f8e" stroke-width="0.95"/>
<path d="M394.02 90.70L396.02 93.60L394.02 96.50L392.02 93.60Z" fill="none" stroke="#7e2f8e" stroke-width="0.95"/>
<path d="M400.06 56.90L402.06 59.80L400.06 62.70L398.06 59.80Z" fill="none" stroke="#7e2f8e" stroke-width="0.95"/>
<path d="M406.10 66.50L408.10 69.40L406.10 72.30L404.10 69.40Z" fill="none" stroke="#7e2f8e" stroke-width="0.95"/>
<path d="M412.14 62.70L414.14 65.60L412.14 68.50L410.14 65.60Z" fill="none" stroke="#7e2f8e" stroke-width="0.95"/>
<path d="M418.18 63.20L420.18 66.10L418.18 69.00L416.18 66.10Z" fill="none" stroke="#7e2f8e" stroke-width="0.95"/>
<path d="M424.22 12.00L426.22 14.90L424.22 17.80L422.22 14.90Z" fill="none" stroke="#7e2f8e" stroke-width="0.95"/>
<path d="M430.26 26.80L432.26 29.70L430.26 32.60L428.26 29.70Z" fill="none" stroke="#7e2f8e" stroke-width="0.95"/>
<path d="M436.30 23.60L438.30 26.50L436.30 29.40L434.30 26.50Z" fill="none" stroke="#7e2f8e" stroke-width="0.95"/>
<path d="M442.34 8.70L444.34 11.60L442.34 14.50L440.34 11.60Z" fill="none" stroke="#7e2f8e" stroke-width="0.95"/>
<path d="M448.38 10.70L450.38 13.60L448.38 16.50L446.38 13.60Z" fill="none" stroke="#7e2f8e" stroke-width="0.95"/>
<path d="M460.46 31.50L462.46 34.40L460.46 37.30L458.46 34.40Z" fill="none" stroke="#7e2f8e" stroke-width="0.95"/>
<path d="M478.58 19.80L480.58 22.70L478.58 25.60L476.58 22.70Z" fill="none" stroke="#7e2f8e" stroke-width="0.95"/>
</g>
<path d="M325.5 25.70h23.6" stroke="#0000ff" stroke-width="1.0"/>
<circle cx="337.20" cy="25.70" r="1.79" fill="none" stroke="#0000ff" stroke-width="0.95"/>
<text x="351.10" y="28.50" font-size="8.5">G-S, <tspan font-style="italic">N</tspan> = 8</text>
<path d="M325.5 36.15h23.6" stroke="#ff0000" stroke-width="1.0"/>
<path d="M335.09 34.82H339.31L337.20 38.49Z" fill="none" stroke="#ff0000" stroke-width="0.95"/>
<text x="351.10" y="38.95" font-size="8.5">G-S, <tspan font-style="italic">N</tspan> = 10</text>
<path d="M325.5 46.60h23.6" stroke="#2f9a2f" stroke-width="1.0"/>
<rect x="335.80" y="45.20" width="2.8080000000000003" height="2.8080000000000003" fill="none" stroke="#2f9a2f" stroke-width="0.95"/>
<text x="351.10" y="49.40" font-size="8.5">G-S, <tspan font-style="italic">N</tspan> = 12</text>
<path d="M325.5 57.05h23.6" stroke="#7e2f8e" stroke-width="1.0"/>
<path d="M337.20 54.79L338.76 57.05L337.20 59.31L335.64 57.05Z" fill="none" stroke="#7e2f8e" stroke-width="0.95"/>
<text x="351.10" y="59.85" font-size="8.5">G-S, <tspan font-style="italic">N</tspan> = 14</text>
<rect x="40.8" y="294.5" width="181.2" height="181.3" fill="none" stroke="#262626" stroke-width="0.5"/>
<path d="M40.80 478.90000000000003v-3.1M40.80 291.4v3.1M58.98 477.3v-1.5M58.98 293.0v1.5M69.62 477.3v-1.5M69.62 293.0v1.5M77.16 477.3v-1.5M77.16 293.0v1.5M83.02 477.3v-1.5M83.02 293.0v1.5M87.80 477.3v-1.5M87.80 293.0v1.5M91.84 477.3v-1.5M91.84 293.0v1.5M95.35 477.3v-1.5M95.35 293.0v1.5M98.44 477.3v-1.5M98.44 293.0v1.5M101.20 478.90000000000003v-3.1M101.20 291.4v3.1M119.38 477.3v-1.5M119.38 293.0v1.5M130.02 477.3v-1.5M130.02 293.0v1.5M137.56 477.3v-1.5M137.56 293.0v1.5M143.42 477.3v-1.5M143.42 293.0v1.5M148.20 477.3v-1.5M148.20 293.0v1.5M152.24 477.3v-1.5M152.24 293.0v1.5M155.75 477.3v-1.5M155.75 293.0v1.5M158.84 477.3v-1.5M158.84 293.0v1.5M161.60 478.90000000000003v-3.1M161.60 291.4v3.1M179.78 477.3v-1.5M179.78 293.0v1.5M190.42 477.3v-1.5M190.42 293.0v1.5M197.96 477.3v-1.5M197.96 293.0v1.5M203.82 477.3v-1.5M203.82 293.0v1.5M208.60 477.3v-1.5M208.60 293.0v1.5M212.64 477.3v-1.5M212.64 293.0v1.5M216.15 477.3v-1.5M216.15 293.0v1.5M219.24 477.3v-1.5M219.24 293.0v1.5M222.00 478.90000000000003v-3.1M222.00 291.4v3.1M37.699999999999996 294.50h3.1M225.1 294.50h-3.1M39.3 310.34h1.5M223.5 310.34h-1.5M39.3 306.35h1.5M223.5 306.35h-1.5M39.3 303.52h1.5M223.5 303.52h-1.5M39.3 301.32h1.5M223.5 301.32h-1.5M39.3 299.53h1.5M223.5 299.53h-1.5M39.3 298.01h1.5M223.5 298.01h-1.5M39.3 296.70h1.5M223.5 296.70h-1.5M39.3 295.54h1.5M223.5 295.54h-1.5M39.3 317.16h1.5M223.5 317.16h-1.5M39.3 333.00h1.5M223.5 333.00h-1.5M39.3 329.01h1.5M223.5 329.01h-1.5M39.3 326.18h1.5M223.5 326.18h-1.5M39.3 323.98h1.5M223.5 323.98h-1.5M39.3 322.19h1.5M223.5 322.19h-1.5M39.3 320.67h1.5M223.5 320.67h-1.5M39.3 319.36h1.5M223.5 319.36h-1.5M39.3 318.20h1.5M223.5 318.20h-1.5M37.699999999999996 339.82h3.1M225.1 339.82h-3.1M39.3 355.67h1.5M223.5 355.67h-1.5M39.3 351.67h1.5M223.5 351.67h-1.5M39.3 348.84h1.5M223.5 348.84h-1.5M39.3 346.65h1.5M223.5 346.65h-1.5M39.3 344.85h1.5M223.5 344.85h-1.5M39.3 343.34h1.5M223.5 343.34h-1.5M39.3 342.02h1.5M223.5 342.02h-1.5M39.3 340.86h1.5M223.5 340.86h-1.5M39.3 362.49h1.5M223.5 362.49h-1.5M39.3 378.33h1.5M223.5 378.33h-1.5M39.3 374.34h1.5M223.5 374.34h-1.5M39.3 371.51h1.5M223.5 371.51h-1.5M39.3 369.31h1.5M223.5 369.31h-1.5M39.3 367.52h1.5M223.5 367.52h-1.5M39.3 366.00h1.5M223.5 366.00h-1.5M39.3 364.68h1.5M223.5 364.68h-1.5M39.3 363.52h1.5M223.5 363.52h-1.5M37.699999999999996 385.15h3.1M225.1 385.15h-3.1M39.3 400.99h1.5M223.5 400.99h-1.5M39.3 397.00h1.5M223.5 397.00h-1.5M39.3 394.17h1.5M223.5 394.17h-1.5M39.3 391.97h1.5M223.5 391.97h-1.5M39.3 390.18h1.5M223.5 390.18h-1.5M39.3 388.66h1.5M223.5 388.66h-1.5M39.3 387.35h1.5M223.5 387.35h-1.5M39.3 386.19h1.5M223.5 386.19h-1.5M39.3 407.81h1.5M223.5 407.81h-1.5M39.3 423.65h1.5M223.5 423.65h-1.5M39.3 419.66h1.5M223.5 419.66h-1.5M39.3 416.83h1.5M223.5 416.83h-1.5M39.3 414.63h1.5M223.5 414.63h-1.5M39.3 412.84h1.5M223.5 412.84h-1.5M39.3 411.32h1.5M223.5 411.32h-1.5M39.3 410.01h1.5M223.5 410.01h-1.5M39.3 408.85h1.5M223.5 408.85h-1.5M37.699999999999996 430.48h3.1M225.1 430.48h-3.1M39.3 446.32h1.5M223.5 446.32h-1.5M39.3 442.32h1.5M223.5 442.32h-1.5M39.3 439.49h1.5M223.5 439.49h-1.5M39.3 437.30h1.5M223.5 437.30h-1.5M39.3 435.50h1.5M223.5 435.50h-1.5M39.3 433.99h1.5M223.5 433.99h-1.5M39.3 432.67h1.5M223.5 432.67h-1.5M39.3 431.51h1.5M223.5 431.51h-1.5M39.3 453.14h1.5M223.5 453.14h-1.5M39.3 468.98h1.5M223.5 468.98h-1.5M39.3 464.99h1.5M223.5 464.99h-1.5M39.3 462.16h1.5M223.5 462.16h-1.5M39.3 459.96h1.5M223.5 459.96h-1.5M39.3 458.17h1.5M223.5 458.17h-1.5M39.3 456.65h1.5M223.5 456.65h-1.5M39.3 455.33h1.5M223.5 455.33h-1.5M39.3 454.17h1.5M223.5 454.17h-1.5M37.699999999999996 475.80h3.1M225.1 475.80h-3.1" stroke="#262626" stroke-width="0.5" fill="none"/>
<text x="33.20" y="493.80" font-size="9.4">10<tspan dy="-4.0" font-size="7.2">-4</tspan></text>
<text x="93.60" y="493.80" font-size="9.4">10<tspan dy="-4.0" font-size="7.2">-3</tspan></text>
<text x="154.00" y="493.80" font-size="9.4">10<tspan dy="-4.0" font-size="7.2">-2</tspan></text>
<text x="214.40" y="493.80" font-size="9.4">10<tspan dy="-4.0" font-size="7.2">-1</tspan></text>
<text x="34.60" y="299.80" font-size="9.4" text-anchor="end">10<tspan dy="-4.0" font-size="7.2">-4</tspan></text>
<text x="34.60" y="345.12" font-size="9.4" text-anchor="end">10<tspan dy="-4.0" font-size="7.2">-6</tspan></text>
<text x="34.60" y="390.45" font-size="9.4" text-anchor="end">10<tspan dy="-4.0" font-size="7.2">-8</tspan></text>
<text x="34.60" y="435.78" font-size="9.4" text-anchor="end">10<tspan dy="-4.0" font-size="7.2">-10</tspan></text>
<text x="34.60" y="481.10" font-size="9.4" text-anchor="end">10<tspan dy="-4.0" font-size="7.2">-12</tspan></text>
<text x="131.40" y="505.30" font-size="9.6" text-anchor="middle">Time (s)</text>
<text transform="translate(15.20,385.15) rotate(-90)" font-size="9.6" text-anchor="middle"><tspan font-style="italic">V</tspan><tspan dy="4.8" dx="0.2" font-size="7.6" font-style="italic">z</tspan><tspan dy="-4.8" dx="0.8"> (V/m</tspan><tspan dy="-3.6" font-size="7.2">2</tspan><tspan dy="3.6">)</tspan></text>
<g>
<polyline points="40.80,305.10 46.84,308.70 52.88,312.40 58.92,316.00 64.96,319.80 71.00,323.50 77.04,327.40 83.08,331.20 89.12,335.20 95.16,339.10 101.20,343.10 107.24,347.40 113.28,352.20 119.32,357.10 125.36,362.00 131.40,367.00 137.44,372.25 143.48,377.80 149.52,383.30 155.56,389.10 161.60,394.90 167.64,401.20 173.68,407.50 179.72,413.90 185.76,420.70 191.80,427.50 197.84,434.30 203.88,441.70 209.92,448.60 215.96,456.10 222.00,463.80" fill="none" stroke="#0000ff" stroke-width="0.9" stroke-linejoin="round" clip-path="url(#cpc)"/>
<circle cx="40.80" cy="305.10" r="2.30" fill="none" stroke="#0000ff" stroke-width="0.95"/>
<circle cx="46.84" cy="308.70" r="2.30" fill="none" stroke="#0000ff" stroke-width="0.95"/>
<circle cx="52.88" cy="312.40" r="2.30" fill="none" stroke="#0000ff" stroke-width="0.95"/>
<circle cx="58.92" cy="316.00" r="2.30" fill="none" stroke="#0000ff" stroke-width="0.95"/>
<circle cx="64.96" cy="319.80" r="2.30" fill="none" stroke="#0000ff" stroke-width="0.95"/>
<circle cx="71.00" cy="323.50" r="2.30" fill="none" stroke="#0000ff" stroke-width="0.95"/>
<circle cx="77.04" cy="327.40" r="2.30" fill="none" stroke="#0000ff" stroke-width="0.95"/>
<circle cx="83.08" cy="331.20" r="2.30" fill="none" stroke="#0000ff" stroke-width="0.95"/>
<circle cx="89.12" cy="335.20" r="2.30" fill="none" stroke="#0000ff" stroke-width="0.95"/>
<circle cx="95.16" cy="339.10" r="2.30" fill="none" stroke="#0000ff" stroke-width="0.95"/>
<circle cx="101.20" cy="343.10" r="2.30" fill="none" stroke="#0000ff" stroke-width="0.95"/>
<circle cx="107.24" cy="347.40" r="2.30" fill="none" stroke="#0000ff" stroke-width="0.95"/>
<circle cx="113.28" cy="352.20" r="2.30" fill="none" stroke="#0000ff" stroke-width="0.95"/>
<circle cx="119.32" cy="357.10" r="2.30" fill="none" stroke="#0000ff" stroke-width="0.95"/>
<circle cx="125.36" cy="362.00" r="2.30" fill="none" stroke="#0000ff" stroke-width="0.95"/>
<circle cx="131.40" cy="367.00" r="2.30" fill="none" stroke="#0000ff" stroke-width="0.95"/>
<circle cx="137.44" cy="372.25" r="2.30" fill="none" stroke="#0000ff" stroke-width="0.95"/>
<circle cx="143.48" cy="377.80" r="2.30" fill="none" stroke="#0000ff" stroke-width="0.95"/>
<circle cx="149.52" cy="383.30" r="2.30" fill="none" stroke="#0000ff" stroke-width="0.95"/>
<circle cx="155.56" cy="389.10" r="2.30" fill="none" stroke="#0000ff" stroke-width="0.95"/>
<circle cx="161.60" cy="394.90" r="2.30" fill="none" stroke="#0000ff" stroke-width="0.95"/>
<circle cx="167.64" cy="401.20" r="2.30" fill="none" stroke="#0000ff" stroke-width="0.95"/>
<circle cx="173.68" cy="407.50" r="2.30" fill="none" stroke="#0000ff" stroke-width="0.95"/>
<circle cx="179.72" cy="413.90" r="2.30" fill="none" stroke="#0000ff" stroke-width="0.95"/>
<circle cx="185.76" cy="420.70" r="2.30" fill="none" stroke="#0000ff" stroke-width="0.95"/>
<circle cx="191.80" cy="427.50" r="2.30" fill="none" stroke="#0000ff" stroke-width="0.95"/>
<circle cx="197.84" cy="434.30" r="2.30" fill="none" stroke="#0000ff" stroke-width="0.95"/>
<circle cx="203.88" cy="441.70" r="2.30" fill="none" stroke="#0000ff" stroke-width="0.95"/>
<circle cx="209.92" cy="448.60" r="2.30" fill="none" stroke="#0000ff" stroke-width="0.95"/>
<circle cx="215.96" cy="456.10" r="2.30" fill="none" stroke="#0000ff" stroke-width="0.95"/>
<circle cx="222.00" cy="463.80" r="2.30" fill="none" stroke="#0000ff" stroke-width="0.95"/>
<polyline points="40.80,305.10 46.84,308.70 52.88,312.40 58.92,316.00 64.96,319.80 71.00,323.50 77.04,327.40 83.08,331.20 89.12,335.20 95.16,339.10 101.20,343.10 107.24,347.40 113.28,352.20 119.32,357.10 125.36,362.00 131.40,367.00 137.44,372.25 143.48,377.80 149.52,383.30 155.56,389.10 161.60,394.90 167.64,401.20 173.68,407.50 179.72,413.90 185.76,420.70 191.80,427.50 197.84,434.30 203.88,441.70 209.92,448.60 215.96,456.10 222.00,463.80" fill="none" stroke="#ff0000" stroke-width="0.9" stroke-linejoin="round" clip-path="url(#cpc)"/>
<path d="M38.10 303.40H43.50L40.80 308.10Z" fill="none" stroke="#ff0000" stroke-width="0.95"/>
<path d="M44.14 307.00H49.54L46.84 311.70Z" fill="none" stroke="#ff0000" stroke-width="0.95"/>
<path d="M50.18 310.70H55.58L52.88 315.40Z" fill="none" stroke="#ff0000" stroke-width="0.95"/>
<path d="M56.22 314.30H61.62L58.92 319.00Z" fill="none" stroke="#ff0000" stroke-width="0.95"/>
<path d="M62.26 318.10H67.66L64.96 322.80Z" fill="none" stroke="#ff0000" stroke-width="0.95"/>
<path d="M68.30 321.80H73.70L71.00 326.50Z" fill="none" stroke="#ff0000" stroke-width="0.95"/>
<path d="M74.34 325.70H79.74L77.04 330.40Z" fill="none" stroke="#ff0000" stroke-width="0.95"/>
<path d="M80.38 329.50H85.78L83.08 334.20Z" fill="none" stroke="#ff0000" stroke-width="0.95"/>
<path d="M86.42 333.50H91.82L89.12 338.20Z" fill="none" stroke="#ff0000" stroke-width="0.95"/>
<path d="M92.46 337.40H97.86L95.16 342.10Z" fill="none" stroke="#ff0000" stroke-width="0.95"/>
<path d="M98.50 341.40H103.90L101.20 346.10Z" fill="none" stroke="#ff0000" stroke-width="0.95"/>
<path d="M104.54 345.70H109.94L107.24 350.40Z" fill="none" stroke="#ff0000" stroke-width="0.95"/>
<path d="M110.58 350.50H115.98L113.28 355.20Z" fill="none" stroke="#ff0000" stroke-width="0.95"/>
<path d="M116.62 355.40H122.02L119.32 360.10Z" fill="none" stroke="#ff0000" stroke-width="0.95"/>
<path d="M122.66 360.30H128.06L125.36 365.00Z" fill="none" stroke="#ff0000" stroke-width="0.95"/>
<path d="M128.70 365.30H134.10L131.40 370.00Z" fill="none" stroke="#ff0000" stroke-width="0.95"/>
<path d="M134.74 370.55H140.14L137.44 375.25Z" fill="none" stroke="#ff0000" stroke-width="0.95"/>
<path d="M140.78 376.10H146.18L143.48 380.80Z" fill="none" stroke="#ff0000" stroke-width="0.95"/>
<path d="M146.82 381.60H152.22L149.52 386.30Z" fill="none" stroke="#ff0000" stroke-width="0.95"/>
<path d="M152.86 387.40H158.26L155.56 392.10Z" fill="none" stroke="#ff0000" stroke-width="0.95"/>
<path d="M158.90 393.20H164.30L161.60 397.90Z" fill="none" stroke="#ff0000" stroke-width="0.95"/>
<path d="M164.94 399.50H170.34L167.64 404.20Z" fill="none" stroke="#ff0000" stroke-width="0.95"/>
<path d="M170.98 405.80H176.38L173.68 410.50Z" fill="none" stroke="#ff0000" stroke-width="0.95"/>
<path d="M177.02 412.20H182.42L179.72 416.90Z" fill="none" stroke="#ff0000" stroke-width="0.95"/>
<path d="M183.06 419.00H188.46L185.76 423.70Z" fill="none" stroke="#ff0000" stroke-width="0.95"/>
<path d="M189.10 425.80H194.50L191.80 430.50Z" fill="none" stroke="#ff0000" stroke-width="0.95"/>
<path d="M195.14 432.60H200.54L197.84 437.30Z" fill="none" stroke="#ff0000" stroke-width="0.95"/>
<path d="M201.18 440.00H206.58L203.88 444.70Z" fill="none" stroke="#ff0000" stroke-width="0.95"/>
<path d="M207.22 446.90H212.62L209.92 451.60Z" fill="none" stroke="#ff0000" stroke-width="0.95"/>
<path d="M213.26 454.40H218.66L215.96 459.10Z" fill="none" stroke="#ff0000" stroke-width="0.95"/>
<path d="M219.30 462.10H224.70L222.00 466.80Z" fill="none" stroke="#ff0000" stroke-width="0.95"/>
<polyline points="40.80,305.10 46.84,308.70 52.88,312.40 58.92,316.00 64.96,319.80 71.00,323.50 77.04,327.40 83.08,331.20 89.12,335.20 95.16,339.10 101.20,343.10 107.24,347.40 113.28,352.20 119.32,357.10 125.36,362.00 131.40,367.00 137.44,372.25 143.48,377.80 149.52,383.30 155.56,389.10 161.60,394.90 167.64,401.20 173.68,407.50 179.72,413.90 185.76,420.70 191.80,427.50 197.84,434.30 203.88,441.70 209.92,448.60 215.96,456.10 222.00,463.80" fill="none" stroke="#2f9a2f" stroke-width="0.9" stroke-linejoin="round" clip-path="url(#cpc)"/>
<rect x="39.00" y="303.30" width="3.6" height="3.6" fill="none" stroke="#2f9a2f" stroke-width="0.95"/>
<rect x="45.04" y="306.90" width="3.6" height="3.6" fill="none" stroke="#2f9a2f" stroke-width="0.95"/>
<rect x="51.08" y="310.60" width="3.6" height="3.6" fill="none" stroke="#2f9a2f" stroke-width="0.95"/>
<rect x="57.12" y="314.20" width="3.6" height="3.6" fill="none" stroke="#2f9a2f" stroke-width="0.95"/>
<rect x="63.16" y="318.00" width="3.6" height="3.6" fill="none" stroke="#2f9a2f" stroke-width="0.95"/>
<rect x="69.20" y="321.70" width="3.6" height="3.6" fill="none" stroke="#2f9a2f" stroke-width="0.95"/>
<rect x="75.24" y="325.60" width="3.6" height="3.6" fill="none" stroke="#2f9a2f" stroke-width="0.95"/>
<rect x="81.28" y="329.40" width="3.6" height="3.6" fill="none" stroke="#2f9a2f" stroke-width="0.95"/>
<rect x="87.32" y="333.40" width="3.6" height="3.6" fill="none" stroke="#2f9a2f" stroke-width="0.95"/>
<rect x="93.36" y="337.30" width="3.6" height="3.6" fill="none" stroke="#2f9a2f" stroke-width="0.95"/>
<rect x="99.40" y="341.30" width="3.6" height="3.6" fill="none" stroke="#2f9a2f" stroke-width="0.95"/>
<rect x="105.44" y="345.60" width="3.6" height="3.6" fill="none" stroke="#2f9a2f" stroke-width="0.95"/>
<rect x="111.48" y="350.40" width="3.6" height="3.6" fill="none" stroke="#2f9a2f" stroke-width="0.95"/>
<rect x="117.52" y="355.30" width="3.6" height="3.6" fill="none" stroke="#2f9a2f" stroke-width="0.95"/>
<rect x="123.56" y="360.20" width="3.6" height="3.6" fill="none" stroke="#2f9a2f" stroke-width="0.95"/>
<rect x="129.60" y="365.20" width="3.6" height="3.6" fill="none" stroke="#2f9a2f" stroke-width="0.95"/>
<rect x="135.64" y="370.45" width="3.6" height="3.6" fill="none" stroke="#2f9a2f" stroke-width="0.95"/>
<rect x="141.68" y="376.00" width="3.6" height="3.6" fill="none" stroke="#2f9a2f" stroke-width="0.95"/>
<rect x="147.72" y="381.50" width="3.6" height="3.6" fill="none" stroke="#2f9a2f" stroke-width="0.95"/>
<rect x="153.76" y="387.30" width="3.6" height="3.6" fill="none" stroke="#2f9a2f" stroke-width="0.95"/>
<rect x="159.80" y="393.10" width="3.6" height="3.6" fill="none" stroke="#2f9a2f" stroke-width="0.95"/>
<rect x="165.84" y="399.40" width="3.6" height="3.6" fill="none" stroke="#2f9a2f" stroke-width="0.95"/>
<rect x="171.88" y="405.70" width="3.6" height="3.6" fill="none" stroke="#2f9a2f" stroke-width="0.95"/>
<rect x="177.92" y="412.10" width="3.6" height="3.6" fill="none" stroke="#2f9a2f" stroke-width="0.95"/>
<rect x="183.96" y="418.90" width="3.6" height="3.6" fill="none" stroke="#2f9a2f" stroke-width="0.95"/>
<rect x="190.00" y="425.70" width="3.6" height="3.6" fill="none" stroke="#2f9a2f" stroke-width="0.95"/>
<rect x="196.04" y="432.50" width="3.6" height="3.6" fill="none" stroke="#2f9a2f" stroke-width="0.95"/>
<rect x="202.08" y="439.90" width="3.6" height="3.6" fill="none" stroke="#2f9a2f" stroke-width="0.95"/>
<rect x="208.12" y="446.80" width="3.6" height="3.6" fill="none" stroke="#2f9a2f" stroke-width="0.95"/>
<rect x="214.16" y="454.30" width="3.6" height="3.6" fill="none" stroke="#2f9a2f" stroke-width="0.95"/>
<rect x="220.20" y="462.00" width="3.6" height="3.6" fill="none" stroke="#2f9a2f" stroke-width="0.95"/>
<polyline points="40.80,305.10 46.84,308.70 52.88,312.40 58.92,316.00 64.96,319.80 71.00,323.50 77.04,327.40 83.08,331.20 89.12,335.20 95.16,339.10 101.20,343.10 107.24,347.40 113.28,352.20 119.32,357.10 125.36,362.00 131.40,367.00 137.44,372.25 143.48,377.80 149.52,383.30 155.56,389.10 161.60,394.90 167.64,401.20 173.68,407.50 179.72,413.90 185.76,420.70 191.80,427.50 197.84,434.30 203.88,441.70 209.92,448.60 215.96,456.10 222.00,463.80" fill="none" stroke="#7e2f8e" stroke-width="0.9" stroke-linejoin="round" clip-path="url(#cpc)"/>
<path d="M40.80 302.20L42.80 305.10L40.80 308.00L38.80 305.10Z" fill="none" stroke="#7e2f8e" stroke-width="0.95"/>
<path d="M46.84 305.80L48.84 308.70L46.84 311.60L44.84 308.70Z" fill="none" stroke="#7e2f8e" stroke-width="0.95"/>
<path d="M52.88 309.50L54.88 312.40L52.88 315.30L50.88 312.40Z" fill="none" stroke="#7e2f8e" stroke-width="0.95"/>
<path d="M58.92 313.10L60.92 316.00L58.92 318.90L56.92 316.00Z" fill="none" stroke="#7e2f8e" stroke-width="0.95"/>
<path d="M64.96 316.90L66.96 319.80L64.96 322.70L62.96 319.80Z" fill="none" stroke="#7e2f8e" stroke-width="0.95"/>
<path d="M71.00 320.60L73.00 323.50L71.00 326.40L69.00 323.50Z" fill="none" stroke="#7e2f8e" stroke-width="0.95"/>
<path d="M77.04 324.50L79.04 327.40L77.04 330.30L75.04 327.40Z" fill="none" stroke="#7e2f8e" stroke-width="0.95"/>
<path d="M83.08 328.30L85.08 331.20L83.08 334.10L81.08 331.20Z" fill="none" stroke="#7e2f8e" stroke-width="0.95"/>
<path d="M89.12 332.30L91.12 335.20L89.12 338.10L87.12 335.20Z" fill="none" stroke="#7e2f8e" stroke-width="0.95"/>
<path d="M95.16 336.20L97.16 339.10L95.16 342.00L93.16 339.10Z" fill="none" stroke="#7e2f8e" stroke-width="0.95"/>
<path d="M101.20 340.20L103.20 343.10L101.20 346.00L99.20 343.10Z" fill="none" stroke="#7e2f8e" stroke-width="0.95"/>
<path d="M107.24 344.50L109.24 347.40L107.24 350.30L105.24 347.40Z" fill="none" stroke="#7e2f8e" stroke-width="0.95"/>
<path d="M113.28 349.30L115.28 352.20L113.28 355.10L111.28 352.20Z" fill="none" stroke="#7e2f8e" stroke-width="0.95"/>
<path d="M119.32 354.20L121.32 357.10L119.32 360.00L117.32 357.10Z" fill="none" stroke="#7e2f8e" stroke-width="0.95"/>
<path d="M125.36 359.10L127.36 362.00L125.36 364.90L123.36 362.00Z" fill="none" stroke="#7e2f8e" stroke-width="0.95"/>
<path d="M131.40 364.10L133.40 367.00L131.40 369.90L129.40 367.00Z" fill="none" stroke="#7e2f8e" stroke-width="0.95"/>
<path d="M137.44 369.35L139.44 372.25L137.44 375.15L135.44 372.25Z" fill="none" stroke="#7e2f8e" stroke-width="0.95"/>
<path d="M143.48 374.90L145.48 377.80L143.48 380.70L141.48 377.80Z" fill="none" stroke="#7e2f8e" stroke-width="0.95"/>
<path d="M149.52 380.40L151.52 383.30L149.52 386.20L147.52 383.30Z" fill="none" stroke="#7e2f8e" stroke-width="0.95"/>
<path d="M155.56 386.20L157.56 389.10L155.56 392.00L153.56 389.10Z" fill="none" stroke="#7e2f8e" stroke-width="0.95"/>
<path d="M161.60 392.00L163.60 394.90L161.60 397.80L159.60 394.90Z" fill="none" stroke="#7e2f8e" stroke-width="0.95"/>
<path d="M167.64 398.30L169.64 401.20L167.64 404.10L165.64 401.20Z" fill="none" stroke="#7e2f8e" stroke-width="0.95"/>
<path d="M173.68 404.60L175.68 407.50L173.68 410.40L171.68 407.50Z" fill="none" stroke="#7e2f8e" stroke-width="0.95"/>
<path d="M179.72 411.00L181.72 413.90L179.72 416.80L177.72 413.90Z" fill="none" stroke="#7e2f8e" stroke-width="0.95"/>
<path d="M185.76 417.80L187.76 420.70L185.76 423.60L183.76 420.70Z" fill="none" stroke="#7e2f8e" stroke-width="0.95"/>
<path d="M191.80 424.60L193.80 427.50L191.80 430.40L189.80 427.50Z" fill="none" stroke="#7e2f8e" stroke-width="0.95"/>
<path d="M197.84 431.40L199.84 434.30L197.84 437.20L195.84 434.30Z" fill="none" stroke="#7e2f8e" stroke-width="0.95"/>
<path d="M203.88 438.80L205.88 441.70L203.88 444.60L201.88 441.70Z" fill="none" stroke="#7e2f8e" stroke-width="0.95"/>
<path d="M209.92 445.70L211.92 448.60L209.92 451.50L207.92 448.60Z" fill="none" stroke="#7e2f8e" stroke-width="0.95"/>
<path d="M215.96 453.20L217.96 456.10L215.96 459.00L213.96 456.10Z" fill="none" stroke="#7e2f8e" stroke-width="0.95"/>
<path d="M222.00 460.90L224.00 463.80L222.00 466.70L220.00 463.80Z" fill="none" stroke="#7e2f8e" stroke-width="0.95"/>
<polyline points="40.80,305.10 46.84,308.70 52.88,312.40 58.92,316.00 64.96,319.80 71.00,323.50 77.04,327.40 83.08,331.20 89.12,335.20 95.16,339.10 101.20,343.10 107.24,347.40 113.28,352.20 119.32,357.10 125.36,362.00 131.40,367.00 137.44,372.25 143.48,377.80 149.52,383.30 155.56,389.10 161.60,394.90 167.64,401.20 173.68,407.50 179.72,413.90 185.76,420.70 191.80,427.50 197.84,434.30 203.88,441.70 209.92,448.60 215.96,456.10 222.00,463.80" fill="none" stroke="#000" stroke-width="1.05"/>
</g>
<path d="M127.5 308.90h23.6" stroke="#0000ff" stroke-width="1.0"/>
<circle cx="139.20" cy="308.90" r="1.79" fill="none" stroke="#0000ff" stroke-width="0.95"/>
<text x="153.10" y="311.70" font-size="8.5">Talbot, <tspan font-style="italic">N</tspan> = 8</text>
<path d="M127.5 319.35h23.6" stroke="#ff0000" stroke-width="1.0"/>
<path d="M137.09 318.02H141.31L139.20 321.69Z" fill="none" stroke="#ff0000" stroke-width="0.95"/>
<text x="153.10" y="322.15" font-size="8.5">Talbot, <tspan font-style="italic">N</tspan> = 10</text>
<path d="M127.5 329.80h23.6" stroke="#2f9a2f" stroke-width="1.0"/>
<rect x="137.80" y="328.40" width="2.8080000000000003" height="2.8080000000000003" fill="none" stroke="#2f9a2f" stroke-width="0.95"/>
<text x="153.10" y="332.60" font-size="8.5">Talbot, <tspan font-style="italic">N</tspan> = 12</text>
<path d="M127.5 340.25h23.6" stroke="#7e2f8e" stroke-width="1.0"/>
<path d="M139.20 337.99L140.76 340.25L139.20 342.51L137.64 340.25Z" fill="none" stroke="#7e2f8e" stroke-width="0.95"/>
<text x="153.10" y="343.05" font-size="8.5">Talbot, <tspan font-style="italic">N</tspan> = 14</text>
<path d="M127.5 350.70h23.6" stroke="#000" stroke-width="1.0"/>
<text x="153.10" y="353.50" font-size="8.5">Analytic solution</text>
<rect x="315.5" y="294.5" width="181.2" height="181.3" fill="none" stroke="#262626" stroke-width="0.5"/>
<path d="M315.50 478.90000000000003v-3.1M315.50 291.4v3.1M333.68 477.3v-1.5M333.68 293.0v1.5M344.32 477.3v-1.5M344.32 293.0v1.5M351.86 477.3v-1.5M351.86 293.0v1.5M357.72 477.3v-1.5M357.72 293.0v1.5M362.50 477.3v-1.5M362.50 293.0v1.5M366.54 477.3v-1.5M366.54 293.0v1.5M370.05 477.3v-1.5M370.05 293.0v1.5M373.14 477.3v-1.5M373.14 293.0v1.5M375.90 478.90000000000003v-3.1M375.90 291.4v3.1M394.08 477.3v-1.5M394.08 293.0v1.5M404.72 477.3v-1.5M404.72 293.0v1.5M412.26 477.3v-1.5M412.26 293.0v1.5M418.12 477.3v-1.5M418.12 293.0v1.5M422.90 477.3v-1.5M422.90 293.0v1.5M426.94 477.3v-1.5M426.94 293.0v1.5M430.45 477.3v-1.5M430.45 293.0v1.5M433.54 477.3v-1.5M433.54 293.0v1.5M436.30 478.90000000000003v-3.1M436.30 291.4v3.1M454.48 477.3v-1.5M454.48 293.0v1.5M465.12 477.3v-1.5M465.12 293.0v1.5M472.66 477.3v-1.5M472.66 293.0v1.5M478.52 477.3v-1.5M478.52 293.0v1.5M483.30 477.3v-1.5M483.30 293.0v1.5M487.34 477.3v-1.5M487.34 293.0v1.5M490.85 477.3v-1.5M490.85 293.0v1.5M493.94 477.3v-1.5M493.94 293.0v1.5M496.70 478.90000000000003v-3.1M496.70 291.4v3.1M312.4 294.50h3.1M499.8 294.50h-3.1M314.0 326.18h1.5M498.2 326.18h-1.5M314.0 318.20h1.5M498.2 318.20h-1.5M314.0 312.54h1.5M498.2 312.54h-1.5M314.0 308.14h1.5M498.2 308.14h-1.5M314.0 304.56h1.5M498.2 304.56h-1.5M314.0 301.52h1.5M498.2 301.52h-1.5M314.0 298.89h1.5M498.2 298.89h-1.5M314.0 296.57h1.5M498.2 296.57h-1.5M312.4 339.82h3.1M499.8 339.82h-3.1M314.0 371.51h1.5M498.2 371.51h-1.5M314.0 363.52h1.5M498.2 363.52h-1.5M314.0 357.86h1.5M498.2 357.86h-1.5M314.0 353.47h1.5M498.2 353.47h-1.5M314.0 349.88h1.5M498.2 349.88h-1.5M314.0 346.85h1.5M498.2 346.85h-1.5M314.0 344.22h1.5M498.2 344.22h-1.5M314.0 341.90h1.5M498.2 341.90h-1.5M312.4 385.15h3.1M499.8 385.15h-3.1M314.0 416.83h1.5M498.2 416.83h-1.5M314.0 408.85h1.5M498.2 408.85h-1.5M314.0 403.19h1.5M498.2 403.19h-1.5M314.0 398.79h1.5M498.2 398.79h-1.5M314.0 395.21h1.5M498.2 395.21h-1.5M314.0 392.17h1.5M498.2 392.17h-1.5M314.0 389.54h1.5M498.2 389.54h-1.5M314.0 387.22h1.5M498.2 387.22h-1.5M312.4 430.48h3.1M499.8 430.48h-3.1M314.0 462.16h1.5M498.2 462.16h-1.5M314.0 454.17h1.5M498.2 454.17h-1.5M314.0 448.51h1.5M498.2 448.51h-1.5M314.0 444.12h1.5M498.2 444.12h-1.5M314.0 440.53h1.5M498.2 440.53h-1.5M314.0 437.50h1.5M498.2 437.50h-1.5M314.0 434.87h1.5M498.2 434.87h-1.5M314.0 432.55h1.5M498.2 432.55h-1.5M312.4 475.80h3.1M499.8 475.80h-3.1" stroke="#262626" stroke-width="0.5" fill="none"/>
<text x="307.90" y="493.80" font-size="9.4">10<tspan dy="-4.0" font-size="7.2">-4</tspan></text>
<text x="368.30" y="493.80" font-size="9.4">10<tspan dy="-4.0" font-size="7.2">-3</tspan></text>
<text x="428.70" y="493.80" font-size="9.4">10<tspan dy="-4.0" font-size="7.2">-2</tspan></text>
<text x="489.10" y="493.80" font-size="9.4">10<tspan dy="-4.0" font-size="7.2">-1</tspan></text>
<text x="309.30" y="299.80" font-size="9.4" text-anchor="end">10<tspan dy="-4.0" font-size="7.2">2</tspan></text>
<text x="309.30" y="345.12" font-size="9.4" text-anchor="end">10<tspan dy="-4.0" font-size="7.2">1</tspan></text>
<text x="309.30" y="390.45" font-size="9.4" text-anchor="end">10<tspan dy="-4.0" font-size="7.2">0</tspan></text>
<text x="309.30" y="435.78" font-size="9.4" text-anchor="end">10<tspan dy="-4.0" font-size="7.2">-1</tspan></text>
<text x="309.30" y="481.10" font-size="9.4" text-anchor="end">10<tspan dy="-4.0" font-size="7.2">-2</tspan></text>
<text x="406.10" y="505.30" font-size="9.6" text-anchor="middle">Time (s)</text>
<text transform="translate(288.80,385.45) rotate(-90)" font-size="9.6" text-anchor="middle">Relative error (%)</text>
<g>
<path d="M315.5 385.45h181.2" stroke="#000" stroke-width="1.0" stroke-dasharray="4.2 2.6"/>
<polyline points="315.50,417.45 321.54,414.95 327.58,411.75 333.62,409.05 339.66,407.05 345.70,406.45 351.74,407.05 357.78,408.05 363.82,407.65 369.86,405.85 375.90,403.35 381.94,401.35 387.98,401.15 394.02,401.75 400.06,402.25 406.10,400.55 412.14,397.45 418.18,394.85 424.22,393.65 430.26,393.45 436.30,393.65 442.34,392.45 448.38,390.45 454.42,387.55 460.46,384.95 466.50,383.65 472.54,383.05 478.58,381.65 484.62,378.15 490.66,380.05 496.70,377.75" fill="none" stroke="#0000ff" stroke-width="0.9" stroke-linejoin="round" clip-path="url(#cpd)"/>
<circle cx="315.50" cy="417.45" r="2.30" fill="none" stroke="#0000ff" stroke-width="0.95"/>
<circle cx="321.54" cy="414.95" r="2.30" fill="none" stroke="#0000ff" stroke-width="0.95"/>
<circle cx="327.58" cy="411.75" r="2.30" fill="none" stroke="#0000ff" stroke-width="0.95"/>
<circle cx="333.62" cy="409.05" r="2.30" fill="none" stroke="#0000ff" stroke-width="0.95"/>
<circle cx="339.66" cy="407.05" r="2.30" fill="none" stroke="#0000ff" stroke-width="0.95"/>
<circle cx="345.70" cy="406.45" r="2.30" fill="none" stroke="#0000ff" stroke-width="0.95"/>
<circle cx="351.74" cy="407.05" r="2.30" fill="none" stroke="#0000ff" stroke-width="0.95"/>
<circle cx="357.78" cy="408.05" r="2.30" fill="none" stroke="#0000ff" stroke-width="0.95"/>
<circle cx="363.82" cy="407.65" r="2.30" fill="none" stroke="#0000ff" stroke-width="0.95"/>
<circle cx="369.86" cy="405.85" r="2.30" fill="none" stroke="#0000ff" stroke-width="0.95"/>
<circle cx="375.90" cy="403.35" r="2.30" fill="none" stroke="#0000ff" stroke-width="0.95"/>
<circle cx="381.94" cy="401.35" r="2.30" fill="none" stroke="#0000ff" stroke-width="0.95"/>
<circle cx="387.98" cy="401.15" r="2.30" fill="none" stroke="#0000ff" stroke-width="0.95"/>
<circle cx="394.02" cy="401.75" r="2.30" fill="none" stroke="#0000ff" stroke-width="0.95"/>
<circle cx="400.06" cy="402.25" r="2.30" fill="none" stroke="#0000ff" stroke-width="0.95"/>
<circle cx="406.10" cy="400.55" r="2.30" fill="none" stroke="#0000ff" stroke-width="0.95"/>
<circle cx="412.14" cy="397.45" r="2.30" fill="none" stroke="#0000ff" stroke-width="0.95"/>
<circle cx="418.18" cy="394.85" r="2.30" fill="none" stroke="#0000ff" stroke-width="0.95"/>
<circle cx="424.22" cy="393.65" r="2.30" fill="none" stroke="#0000ff" stroke-width="0.95"/>
<circle cx="430.26" cy="393.45" r="2.30" fill="none" stroke="#0000ff" stroke-width="0.95"/>
<circle cx="436.30" cy="393.65" r="2.30" fill="none" stroke="#0000ff" stroke-width="0.95"/>
<circle cx="442.34" cy="392.45" r="2.30" fill="none" stroke="#0000ff" stroke-width="0.95"/>
<circle cx="448.38" cy="390.45" r="2.30" fill="none" stroke="#0000ff" stroke-width="0.95"/>
<circle cx="454.42" cy="387.55" r="2.30" fill="none" stroke="#0000ff" stroke-width="0.95"/>
<circle cx="460.46" cy="384.95" r="2.30" fill="none" stroke="#0000ff" stroke-width="0.95"/>
<circle cx="466.50" cy="383.65" r="2.30" fill="none" stroke="#0000ff" stroke-width="0.95"/>
<circle cx="472.54" cy="383.05" r="2.30" fill="none" stroke="#0000ff" stroke-width="0.95"/>
<circle cx="478.58" cy="381.65" r="2.30" fill="none" stroke="#0000ff" stroke-width="0.95"/>
<circle cx="484.62" cy="378.15" r="2.30" fill="none" stroke="#0000ff" stroke-width="0.95"/>
<circle cx="490.66" cy="380.05" r="2.30" fill="none" stroke="#0000ff" stroke-width="0.95"/>
<circle cx="496.70" cy="377.75" r="2.30" fill="none" stroke="#0000ff" stroke-width="0.95"/>
<polyline points="315.50,417.45 321.54,414.95 327.58,411.75 333.62,409.05 339.66,407.05 345.70,406.45 351.74,407.05 357.78,408.05 363.82,407.65 369.86,405.85 375.90,403.35 381.94,401.35 387.98,401.15 394.02,401.75 400.06,402.25 406.10,400.55 412.14,397.45 418.18,394.85 424.22,393.65 430.26,393.45 436.30,393.65 442.34,392.45 448.38,390.45 454.42,387.55 460.46,384.95 466.50,383.65 472.54,383.05 478.58,381.65 484.62,378.15 490.66,380.05 496.70,377.75" fill="none" stroke="#ff0000" stroke-width="0.9" stroke-linejoin="round" clip-path="url(#cpd)"/>
<path d="M312.80 415.75H318.20L315.50 420.45Z" fill="none" stroke="#ff0000" stroke-width="0.95"/>
<path d="M318.84 413.25H324.24L321.54 417.95Z" fill="none" stroke="#ff0000" stroke-width="0.95"/>
<path d="M324.88 410.05H330.28L327.58 414.75Z" fill="none" stroke="#ff0000" stroke-width="0.95"/>
<path d="M330.92 407.35H336.32L333.62 412.05Z" fill="none" stroke="#ff0000" stroke-width="0.95"/>
<path d="M336.96 405.35H342.36L339.66 410.05Z" fill="none" stroke="#ff0000" stroke-width="0.95"/>
<path d="M343.00 404.75H348.40L345.70 409.45Z" fill="none" stroke="#ff0000" stroke-width="0.95"/>
<path d="M349.04 405.35H354.44L351.74 410.05Z" fill="none" stroke="#ff0000" stroke-width="0.95"/>
<path d="M355.08 406.35H360.48L357.78 411.05Z" fill="none" stroke="#ff0000" stroke-width="0.95"/>
<path d="M361.12 405.95H366.52L363.82 410.65Z" fill="none" stroke="#ff0000" stroke-width="0.95"/>
<path d="M367.16 404.15H372.56L369.86 408.85Z" fill="none" stroke="#ff0000" stroke-width="0.95"/>
<path d="M373.20 401.65H378.60L375.90 406.35Z" fill="none" stroke="#ff0000" stroke-width="0.95"/>
<path d="M379.24 399.65H384.64L381.94 404.35Z" fill="none" stroke="#ff0000" stroke-width="0.95"/>
<path d="M385.28 399.45H390.68L387.98 404.15Z" fill="none" stroke="#ff0000" stroke-width="0.95"/>
<path d="M391.32 400.05H396.72L394.02 404.75Z" fill="none" stroke="#ff0000" stroke-width="0.95"/>
<path d="M397.36 400.55H402.76L400.06 405.25Z" fill="none" stroke="#ff0000" stroke-width="0.95"/>
<path d="M403.40 398.85H408.80L406.10 403.55Z" fill="none" stroke="#ff0000" stroke-width="0.95"/>
<path d="M409.44 395.75H414.84L412.14 400.45Z" fill="none" stroke="#ff0000" stroke-width="0.95"/>
<path d="M415.48 393.15H420.88L418.18 397.85Z" fill="none" stroke="#ff0000" stroke-width="0.95"/>
<path d="M421.52 391.95H426.92L424.22 396.65Z" fill="none" stroke="#ff0000" stroke-width="0.95"/>
<path d="M427.56 391.75H432.96L430.26 396.45Z" fill="none" stroke="#ff0000" stroke-width="0.95"/>
<path d="M433.60 391.95H439.00L436.30 396.65Z" fill="none" stroke="#ff0000" stroke-width="0.95"/>
<path d="M439.64 390.75H445.04L442.34 395.45Z" fill="none" stroke="#ff0000" stroke-width="0.95"/>
<path d="M445.68 388.75H451.08L448.38 393.45Z" fill="none" stroke="#ff0000" stroke-width="0.95"/>
<path d="M451.72 385.85H457.12L454.42 390.55Z" fill="none" stroke="#ff0000" stroke-width="0.95"/>
<path d="M457.76 383.25H463.16L460.46 387.95Z" fill="none" stroke="#ff0000" stroke-width="0.95"/>
<path d="M463.80 381.95H469.20L466.50 386.65Z" fill="none" stroke="#ff0000" stroke-width="0.95"/>
<path d="M469.84 381.35H475.24L472.54 386.05Z" fill="none" stroke="#ff0000" stroke-width="0.95"/>
<path d="M475.88 379.95H481.28L478.58 384.65Z" fill="none" stroke="#ff0000" stroke-width="0.95"/>
<path d="M481.92 376.45H487.32L484.62 381.15Z" fill="none" stroke="#ff0000" stroke-width="0.95"/>
<path d="M487.96 378.35H493.36L490.66 383.05Z" fill="none" stroke="#ff0000" stroke-width="0.95"/>
<path d="M494.00 376.05H499.40L496.70 380.75Z" fill="none" stroke="#ff0000" stroke-width="0.95"/>
<polyline points="315.50,417.45 321.54,414.95 327.58,411.75 333.62,409.05 339.66,407.05 345.70,406.45 351.74,407.05 357.78,408.05 363.82,407.65 369.86,405.85 375.90,403.35 381.94,401.35 387.98,401.15 394.02,401.75 400.06,402.25 406.10,400.55 412.14,397.45 418.18,394.85 424.22,393.65 430.26,393.45 436.30,393.65 442.34,392.45 448.38,390.45 454.42,387.55 460.46,384.95 466.50,383.65 472.54,383.05 478.58,381.65 484.62,378.15 490.66,380.05 496.70,377.75" fill="none" stroke="#2f9a2f" stroke-width="0.9" stroke-linejoin="round" clip-path="url(#cpd)"/>
<rect x="313.70" y="415.65" width="3.6" height="3.6" fill="none" stroke="#2f9a2f" stroke-width="0.95"/>
<rect x="319.74" y="413.15" width="3.6" height="3.6" fill="none" stroke="#2f9a2f" stroke-width="0.95"/>
<rect x="325.78" y="409.95" width="3.6" height="3.6" fill="none" stroke="#2f9a2f" stroke-width="0.95"/>
<rect x="331.82" y="407.25" width="3.6" height="3.6" fill="none" stroke="#2f9a2f" stroke-width="0.95"/>
<rect x="337.86" y="405.25" width="3.6" height="3.6" fill="none" stroke="#2f9a2f" stroke-width="0.95"/>
<rect x="343.90" y="404.65" width="3.6" height="3.6" fill="none" stroke="#2f9a2f" stroke-width="0.95"/>
<rect x="349.94" y="405.25" width="3.6" height="3.6" fill="none" stroke="#2f9a2f" stroke-width="0.95"/>
<rect x="355.98" y="406.25" width="3.6" height="3.6" fill="none" stroke="#2f9a2f" stroke-width="0.95"/>
<rect x="362.02" y="405.85" width="3.6" height="3.6" fill="none" stroke="#2f9a2f" stroke-width="0.95"/>
<rect x="368.06" y="404.05" width="3.6" height="3.6" fill="none" stroke="#2f9a2f" stroke-width="0.95"/>
<rect x="374.10" y="401.55" width="3.6" height="3.6" fill="none" stroke="#2f9a2f" stroke-width="0.95"/>
<rect x="380.14" y="399.55" width="3.6" height="3.6" fill="none" stroke="#2f9a2f" stroke-width="0.95"/>
<rect x="386.18" y="399.35" width="3.6" height="3.6" fill="none" stroke="#2f9a2f" stroke-width="0.95"/>
<rect x="392.22" y="399.95" width="3.6" height="3.6" fill="none" stroke="#2f9a2f" stroke-width="0.95"/>
<rect x="398.26" y="400.45" width="3.6" height="3.6" fill="none" stroke="#2f9a2f" stroke-width="0.95"/>
<rect x="404.30" y="398.75" width="3.6" height="3.6" fill="none" stroke="#2f9a2f" stroke-width="0.95"/>
<rect x="410.34" y="395.65" width="3.6" height="3.6" fill="none" stroke="#2f9a2f" stroke-width="0.95"/>
<rect x="416.38" y="393.05" width="3.6" height="3.6" fill="none" stroke="#2f9a2f" stroke-width="0.95"/>
<rect x="422.42" y="391.85" width="3.6" height="3.6" fill="none" stroke="#2f9a2f" stroke-width="0.95"/>
<rect x="428.46" y="391.65" width="3.6" height="3.6" fill="none" stroke="#2f9a2f" stroke-width="0.95"/>
<rect x="434.50" y="391.85" width="3.6" height="3.6" fill="none" stroke="#2f9a2f" stroke-width="0.95"/>
<rect x="440.54" y="390.65" width="3.6" height="3.6" fill="none" stroke="#2f9a2f" stroke-width="0.95"/>
<rect x="446.58" y="388.65" width="3.6" height="3.6" fill="none" stroke="#2f9a2f" stroke-width="0.95"/>
<rect x="452.62" y="385.75" width="3.6" height="3.6" fill="none" stroke="#2f9a2f" stroke-width="0.95"/>
<rect x="458.66" y="383.15" width="3.6" height="3.6" fill="none" stroke="#2f9a2f" stroke-width="0.95"/>
<rect x="464.70" y="381.85" width="3.6" height="3.6" fill="none" stroke="#2f9a2f" stroke-width="0.95"/>
<rect x="470.74" y="381.25" width="3.6" height="3.6" fill="none" stroke="#2f9a2f" stroke-width="0.95"/>
<rect x="476.78" y="379.85" width="3.6" height="3.6" fill="none" stroke="#2f9a2f" stroke-width="0.95"/>
<rect x="482.82" y="376.35" width="3.6" height="3.6" fill="none" stroke="#2f9a2f" stroke-width="0.95"/>
<rect x="488.86" y="378.25" width="3.6" height="3.6" fill="none" stroke="#2f9a2f" stroke-width="0.95"/>
<rect x="494.90" y="375.95" width="3.6" height="3.6" fill="none" stroke="#2f9a2f" stroke-width="0.95"/>
<polyline points="315.50,417.45 321.54,414.95 327.58,411.75 333.62,409.05 339.66,407.05 345.70,406.45 351.74,407.05 357.78,408.05 363.82,407.65 369.86,405.85 375.90,403.35 381.94,401.35 387.98,401.15 394.02,401.75 400.06,402.25 406.10,400.55 412.14,397.45 418.18,394.85 424.22,393.65 430.26,393.45 436.30,393.65 442.34,392.45 448.38,390.45 454.42,387.55 460.46,384.95 466.50,383.65 472.54,383.05 478.58,381.65 484.62,378.15 490.66,380.05 496.70,377.75" fill="none" stroke="#7e2f8e" stroke-width="0.9" stroke-linejoin="round" clip-path="url(#cpd)"/>
<path d="M315.50 414.55L317.50 417.45L315.50 420.35L313.50 417.45Z" fill="none" stroke="#7e2f8e" stroke-width="0.95"/>
<path d="M321.54 412.05L323.54 414.95L321.54 417.85L319.54 414.95Z" fill="none" stroke="#7e2f8e" stroke-width="0.95"/>
<path d="M327.58 408.85L329.58 411.75L327.58 414.65L325.58 411.75Z" fill="none" stroke="#7e2f8e" stroke-width="0.95"/>
<path d="M333.62 406.15L335.62 409.05L333.62 411.95L331.62 409.05Z" fill="none" stroke="#7e2f8e" stroke-width="0.95"/>
<path d="M339.66 404.15L341.66 407.05L339.66 409.95L337.66 407.05Z" fill="none" stroke="#7e2f8e" stroke-width="0.95"/>
<path d="M345.70 403.55L347.70 406.45L345.70 409.35L343.70 406.45Z" fill="none" stroke="#7e2f8e" stroke-width="0.95"/>
<path d="M351.74 404.15L353.74 407.05L351.74 409.95L349.74 407.05Z" fill="none" stroke="#7e2f8e" stroke-width="0.95"/>
<path d="M357.78 405.15L359.78 408.05L357.78 410.95L355.78 408.05Z" fill="none" stroke="#7e2f8e" stroke-width="0.95"/>
<path d="M363.82 404.75L365.82 407.65L363.82 410.55L361.82 407.65Z" fill="none" stroke="#7e2f8e" stroke-width="0.95"/>
<path d="M369.86 402.95L371.86 405.85L369.86 408.75L367.86 405.85Z" fill="none" stroke="#7e2f8e" stroke-width="0.95"/>
<path d="M375.90 400.45L377.90 403.35L375.90 406.25L373.90 403.35Z" fill="none" stroke="#7e2f8e" stroke-width="0.95"/>
<path d="M381.94 398.45L383.94 401.35L381.94 404.25L379.94 401.35Z" fill="none" stroke="#7e2f8e" stroke-width="0.95"/>
<path d="M387.98 398.25L389.98 401.15L387.98 404.05L385.98 401.15Z" fill="none" stroke="#7e2f8e" stroke-width="0.95"/>
<path d="M394.02 398.85L396.02 401.75L394.02 404.65L392.02 401.75Z" fill="none" stroke="#7e2f8e" stroke-width="0.95"/>
<path d="M400.06 399.35L402.06 402.25L400.06 405.15L398.06 402.25Z" fill="none" stroke="#7e2f8e" stroke-width="0.95"/>
<path d="M406.10 397.65L408.10 400.55L406.10 403.45L404.10 400.55Z" fill="none" stroke="#7e2f8e" stroke-width="0.95"/>
<path d="M412.14 394.55L414.14 397.45L412.14 400.35L410.14 397.45Z" fill="none" stroke="#7e2f8e" stroke-width="0.95"/>
<path d="M418.18 391.95L420.18 394.85L418.18 397.75L416.18 394.85Z" fill="none" stroke="#7e2f8e" stroke-width="0.95"/>
<path d="M424.22 390.75L426.22 393.65L424.22 396.55L422.22 393.65Z" fill="none" stroke="#7e2f8e" stroke-width="0.95"/>
<path d="M430.26 390.55L432.26 393.45L430.26 396.35L428.26 393.45Z" fill="none" stroke="#7e2f8e" stroke-width="0.95"/>
<path d="M436.30 390.75L438.30 393.65L436.30 396.55L434.30 393.65Z" fill="none" stroke="#7e2f8e" stroke-width="0.95"/>
<path d="M442.34 389.55L444.34 392.45L442.34 395.35L440.34 392.45Z" fill="none" stroke="#7e2f8e" stroke-width="0.95"/>
<path d="M448.38 387.55L450.38 390.45L448.38 393.35L446.38 390.45Z" fill="none" stroke="#7e2f8e" stroke-width="0.95"/>
<path d="M454.42 384.65L456.42 387.55L454.42 390.45L452.42 387.55Z" fill="none" stroke="#7e2f8e" stroke-width="0.95"/>
<path d="M460.46 382.05L462.46 384.95L460.46 387.85L458.46 384.95Z" fill="none" stroke="#7e2f8e" stroke-width="0.95"/>
<path d="M466.50 380.75L468.50 383.65L466.50 386.55L464.50 383.65Z" fill="none" stroke="#7e2f8e" stroke-width="0.95"/>
<path d="M472.54 380.15L474.54 383.05L472.54 385.95L470.54 383.05Z" fill="none" stroke="#7e2f8e" stroke-width="0.95"/>
<path d="M478.58 378.75L480.58 381.65L478.58 384.55L476.58 381.65Z" fill="none" stroke="#7e2f8e" stroke-width="0.95"/>
<path d="M484.62 375.25L486.62 378.15L484.62 381.05L482.62 378.15Z" fill="none" stroke="#7e2f8e" stroke-width="0.95"/>
<path d="M490.66 377.15L492.66 380.05L490.66 382.95L488.66 380.05Z" fill="none" stroke="#7e2f8e" stroke-width="0.95"/>
<path d="M496.70 374.85L498.70 377.75L496.70 380.65L494.70 377.75Z" fill="none" stroke="#7e2f8e" stroke-width="0.95"/>
</g>
<path d="M325.5 308.90h23.6" stroke="#0000ff" stroke-width="1.0"/>
<circle cx="337.20" cy="308.90" r="1.79" fill="none" stroke="#0000ff" stroke-width="0.95"/>
<text x="351.10" y="311.70" font-size="8.5">Talbot, <tspan font-style="italic">N</tspan> = 8</text>
<path d="M325.5 319.35h23.6" stroke="#ff0000" stroke-width="1.0"/>
<path d="M335.09 318.02H339.31L337.20 321.69Z" fill="none" stroke="#ff0000" stroke-width="0.95"/>
<text x="351.10" y="322.15" font-size="8.5">Talbot, <tspan font-style="italic">N</tspan> = 10</text>
<path d="M325.5 329.80h23.6" stroke="#2f9a2f" stroke-width="1.0"/>
<rect x="335.80" y="328.40" width="2.8080000000000003" height="2.8080000000000003" fill="none" stroke="#2f9a2f" stroke-width="0.95"/>
<text x="351.10" y="332.60" font-size="8.5">Talbot, <tspan font-style="italic">N</tspan> = 12</text>
<path d="M325.5 340.25h23.6" stroke="#7e2f8e" stroke-width="1.0"/>
<path d="M337.20 337.99L338.76 340.25L337.20 342.51L335.64 340.25Z" fill="none" stroke="#7e2f8e" stroke-width="0.95"/>
<text x="351.10" y="343.05" font-size="8.5">Talbot, <tspan font-style="italic">N</tspan> = 14</text>
<text x="117.2" y="258.8" font-size="12.3" text-anchor="middle" fill="#111" stroke="#111" stroke-width="0.3">(<tspan font-weight="bold" stroke="none">a</tspan>)</text>
<text x="391.5" y="258.8" font-size="12.3" text-anchor="middle" fill="#111" stroke="#111" stroke-width="0.3">(<tspan font-weight="bold" stroke="none">b</tspan>)</text>
<text x="117.2" y="542.1" font-size="12.3" text-anchor="middle" fill="#111" stroke="#111" stroke-width="0.3">(<tspan font-weight="bold" stroke="none">c</tspan>)</text>
<text x="391.5" y="542.1" font-size="12.3" text-anchor="middle" fill="#111" stroke="#111" stroke-width="0.3">(<tspan font-weight="bold" stroke="none">d</tspan>)</text>
</svg></body></html>
